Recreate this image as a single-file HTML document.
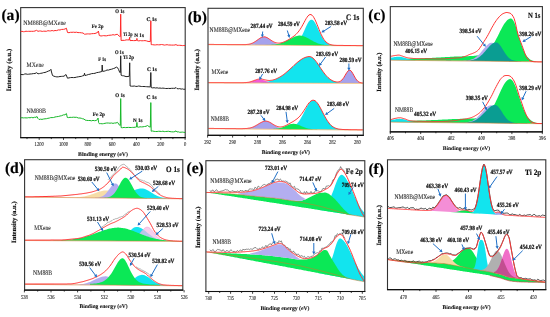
<!DOCTYPE html>
<html><head><meta charset="utf-8"><title>XPS spectra</title><style>
html,body{margin:0;padding:0;background:#fff;overflow:hidden;}
svg{display:block;}
text{font-family:"Liberation Serif","Times New Roman",serif;text-rendering:geometricPrecision;}
</style></head><body>
<svg width="550" height="317" viewBox="0 0 550 317">
<rect width="550" height="317" fill="#fff"/>
<rect x="20.7" y="7.6" width="164.5" height="130" fill="none" stroke="#333" stroke-width="1.1"/>
<path d="M20.2,137.6 H185.7" stroke="#111" stroke-width="1.2"/>
<path d="M185.1,137.6v2.3M160.8,137.6v2.3M136.5,137.6v2.3M112.1,137.6v2.3M87.8,137.6v2.3M63.5,137.6v2.3M39.2,137.6v2.3M172.9,137.6v1.5M148.6,137.6v1.5M124.3,137.6v1.5M100,137.6v1.5M75.7,137.6v1.5M51.3,137.6v1.5M27,137.6v1.5" stroke="#111" stroke-width="0.8"/>
<text x="183.9" y="146.3" font-size="6.0" textLength="2.3" lengthAdjust="spacingAndGlyphs" fill="#111" stroke="#111" stroke-width="0.08">0</text>
<text x="157.3" y="146.3" font-size="6.0" textLength="6.9" lengthAdjust="spacingAndGlyphs" fill="#111" stroke="#111" stroke-width="0.08">200</text>
<text x="133" y="146.3" font-size="6.0" textLength="6.9" lengthAdjust="spacingAndGlyphs" fill="#111" stroke="#111" stroke-width="0.08">400</text>
<text x="108.7" y="146.3" font-size="6.0" textLength="6.9" lengthAdjust="spacingAndGlyphs" fill="#111" stroke="#111" stroke-width="0.08">600</text>
<text x="84.4" y="146.3" font-size="6.0" textLength="6.9" lengthAdjust="spacingAndGlyphs" fill="#111" stroke="#111" stroke-width="0.08">800</text>
<text x="58.9" y="146.3" font-size="6.0" textLength="9.2" lengthAdjust="spacingAndGlyphs" fill="#111" stroke="#111" stroke-width="0.08">1000</text>
<text x="34.6" y="146.3" font-size="6.0" textLength="9.2" lengthAdjust="spacingAndGlyphs" fill="#111" stroke="#111" stroke-width="0.08">1200</text>
<text x="103" y="156.4" font-size="5.8" font-weight="bold" text-anchor="middle" fill="#111" stroke="#111" stroke-width="0.08">Binding energy (eV)</text>
<text x="-21.2" y="0" font-size="6.6" font-weight="bold" textLength="42.4" lengthAdjust="spacingAndGlyphs" fill="#111" stroke="#111" stroke-width="0.18" transform="translate(11.1,70) rotate(-90)">Intensity (a.u.)</text>
<text x="1.4" y="19.7" font-size="15.6" font-weight="bold" fill="#000" stroke="#000" stroke-width="0.18">(a)</text>
<path d="M20.7,31.5 22,31.3 23.4,31.7 24.7,31.6 26,31.2 27.3,31.4 28.7,31.3 30,31.3 31.7,31.3 33.3,31.3 35,31 36.5,30.3 38,31.3 39.4,31 40.8,31 42.2,31.4 43.6,31.2 45,31.2 46.4,31.3 47.9,30.7 49.3,30.9 50.7,30.9 52.1,30.5 53.6,30.9 55,30.5 56.7,30.6 58.3,29.9 60,30 61.7,29.4 63.3,29.4 65,29 66.4,28.2 67.5,32.5 69,32.7 70.5,32.3 72,32.3 73.5,32.2 75,32.4 76.5,32.2 78,32.6 79.7,32.6 81.3,32.8 83,33 84.5,34.2 85.9,34.1 87.2,33.9 88.6,33.9 90,34 91.7,33.7 93.3,33.6 95,33.5 97.5,32.5 98.4,31 99.3,35.5 101,36 102.3,35.8 103.7,35.6 105,35.8 106.7,35.8 108.3,35.4 110,35.2 111.5,35.1 113,34.7 114.5,35 116,34.6 117.2,34.2 119.5,36.4 120.3,36.6 120.7,14.2 121.1,40.5 123,40.3 124.5,40.4 126.1,39.9 127.6,39.9 129.2,39.9 129.6,37.3 130,40.6 132,40.5 133.5,40.6 135,40.6 136.5,40.4 136.9,38.4 137.3,40.6 138.8,40.9 140.4,40.6 141.9,40.8 143.5,40.7 145,40.6 146.5,40.9 148,41.4 150.3,41.6 150.8,20.8 151.2,44.6 152.7,44.7 154.1,44.9 155.6,44.9 157.1,44.7 158.5,44.8 160,44.8 161.4,44.5 162.9,44.7 164.3,45.1 165.7,44.9 167.1,44.7 168.6,45 170,45 171.7,45.1 173.3,45.1 175,45 176,44.5 177,45.3 178.3,45.3 179.7,45.3 181.1,45.4 182.4,45.6 183.8,45.5 185.1,45.5" fill="none" stroke="#ff2a2a" stroke-width="1.0" stroke-linejoin="round"/>
<path d="M20.7,74.4 22,74.6 23.4,74.6 24.7,74 26,73.9 27.3,74.3 28.7,74.2 30,74 31.7,73.9 33.3,73.6 35,73.5 36.6,72.7 38,73.8 39.4,73.6 40.8,73.3 42.2,73.1 43.6,72.6 45,72.5 46.7,71.8 48.3,71.1 50,70.5 50.9,69.3 51.5,72 52.5,75.5 53.9,76.2 55.3,76.6 56.9,76.9 58.4,76.8 60,76.5 61.3,76.4 62.7,76.3 64,76.2 66,74.5 67.5,78.2 69,77.9 70.5,77.6 72,77.5 73.5,77.6 75,77.5 76.7,77.1 78.3,76.8 80,76.5 81.3,76.4 82.7,75.8 84,75.5 84.5,73.2 85,75.5 86.7,75.1 88.3,74.5 90,74.2 91.7,73.6 93.3,73.5 95,73.3 96.7,72.6 98.3,72.4 100,72 101.9,71.5 102.2,65 102.6,71.3 104.1,71.2 105.6,70.7 107,70 108.5,70.1 110,69.5 111.7,69.2 113.3,68.6 115,68 116.3,67.1 117.5,67.6 118.5,69.5 119.8,72.5 120.3,72.5 120.7,55.8 121.1,75.2 122.4,75.7 123.7,75.8 126,76.6 128,76.5 129.3,76.2 129.7,62.8 130.1,86 131.5,86.2 132.9,86.2 134.3,86 135.8,86.4 137.2,86.4 138.6,86 140,86.2 141.3,86.5 142.7,86.5 144,86.5 145.3,86.6 146.7,86.7 148,86.8 150.3,86.9 150.8,72.5 151.2,87.6 152.7,87.9 154.1,87.7 155.6,88 157.1,87.8 158.5,88.2 160,88 161.4,88.3 162.9,88.1 164.3,88.3 165.7,88.5 167.1,88.5 168.6,88.4 170,88.5 171.7,88.3 173.3,88.3 175,88.3 176,87.5 177,88.6 178.3,88.8 179.7,88.6 181.1,89.1 182.4,88.9 183.8,89.3 185.1,89.2" fill="none" stroke="#222" stroke-width="1.0" stroke-linejoin="round"/>
<path d="M20.7,117.9 22,117.7 23.4,117.9 24.7,117.8 26,117.9 27.3,117.9 28.7,117.6 30,117.8 31.5,117.4 33,117.8 34.5,117.3 36,117.3 37,116.5 38,118.5 39,119.5 40.5,119.2 42,119.4 43.5,119 45,118.8 46.4,118.7 47.9,118.3 49.3,118.1 50.7,117.6 52.1,117.6 53.6,117.5 55,117 56.7,116.7 58.3,116.5 60,116 61.7,115.7 63.3,114.9 65,114.8 66.4,113.5 67.3,117.5 68.7,117.6 70,117.3 71.7,117.4 73.3,117.2 75,117.3 76.7,117.3 78.3,118 80,118 81.3,118.3 82.7,118.8 84,119 85,120 86.7,120.4 88.3,120.5 90,120.5 91.5,120.8 93,120.4 94.5,120.7 96,120.5 97.5,119.5 98,118 98.6,122.5 99.3,123.7 100.7,123.6 102.2,123.8 103.6,123.6 105,123.3 106.7,123 108.3,123 110,123.2 111.5,123 113,123.4 114.5,123 116,123 117.5,122.3 119.5,125.2 120.3,125.4 120.7,98.6 121.1,127.6 122.6,127.7 124.1,127.4 125.5,127.6 127,127.5 128.5,127.4 130,127.5 131.3,127.5 132.6,127.4 133.9,127.4 135.2,127.2 136.5,127 136.9,122.4 137.3,127 138.7,127.2 140,126.8 141.5,126.9 143,126.8 144.5,126.5 146,126.3 147.5,125.5 149,126.6 150.3,127.2 150.8,102.6 151.2,131.2 152.7,131 154.1,131.4 155.6,131.5 157.1,131.5 158.5,131.3 160,131.3 161.4,131.5 162.9,131.2 164.3,131.6 165.7,131.5 167.1,131.4 168.6,131.3 170,131.6 171.7,131.8 173.3,131.9 175,131.6 176,130.8 177,132 178.3,131.8 179.7,132.3 181.1,132.2 182.4,132.1 183.8,132.3 185.1,132.5" fill="none" stroke="#18b82a" stroke-width="1.0" stroke-linejoin="round"/>
<text x="23.3" y="24.5" font-size="6.8" textLength="42.7" lengthAdjust="spacingAndGlyphs" fill="#2a2a2a" stroke="#2a2a2a" stroke-width="0.1">NM88B@MXene</text>
<text x="26.6" y="67.3" font-size="6.8" textLength="17.2" lengthAdjust="spacingAndGlyphs" fill="#2a2a2a" stroke="#2a2a2a" stroke-width="0.1">MXene</text>
<text x="26.6" y="112.5" font-size="6.8" textLength="19.4" lengthAdjust="spacingAndGlyphs" fill="#2a2a2a" stroke="#2a2a2a" stroke-width="0.1">NM88B</text>
<text x="91.7" y="28.4" font-size="5.4" font-weight="bold" textLength="11.7" lengthAdjust="spacingAndGlyphs" fill="#111" stroke="#111" stroke-width="0.18">Fe 2p</text>
<text x="115.3" y="13.4" font-size="5.4" font-weight="bold" textLength="9.1" lengthAdjust="spacingAndGlyphs" fill="#111" stroke="#111" stroke-width="0.18">O 1s</text>
<text x="123.3" y="35.5" font-size="5.4" font-weight="bold" textLength="9.2" lengthAdjust="spacingAndGlyphs" fill="#111" stroke="#111" stroke-width="0.18">Ti 2p</text>
<text x="134.3" y="37.3" font-size="5.4" font-weight="bold" textLength="9.7" lengthAdjust="spacingAndGlyphs" fill="#111" stroke="#111" stroke-width="0.18">N 1s</text>
<text x="146.4" y="21.1" font-size="5.4" font-weight="bold" textLength="10.4" lengthAdjust="spacingAndGlyphs" fill="#111" stroke="#111" stroke-width="0.18">C 1s</text>
<text x="98.3" y="60.8" font-size="5.4" font-weight="bold" textLength="7.7" lengthAdjust="spacingAndGlyphs" fill="#111" stroke="#111" stroke-width="0.18">F 1s</text>
<text x="114.9" y="53.6" font-size="5.4" font-weight="bold" textLength="8.8" lengthAdjust="spacingAndGlyphs" fill="#111" stroke="#111" stroke-width="0.18">O 1s</text>
<text x="123" y="59.3" font-size="5.4" font-weight="bold" textLength="11" lengthAdjust="spacingAndGlyphs" fill="#111" stroke="#111" stroke-width="0.18">Ti 2p</text>
<text x="146.9" y="70.8" font-size="5.4" font-weight="bold" textLength="9.9" lengthAdjust="spacingAndGlyphs" fill="#111" stroke="#111" stroke-width="0.18">C 1s</text>
<text x="92.8" y="115.8" font-size="5.4" font-weight="bold" textLength="12.2" lengthAdjust="spacingAndGlyphs" fill="#111" stroke="#111" stroke-width="0.18">Fe 2p</text>
<text x="115.3" y="96.5" font-size="5.4" font-weight="bold" textLength="9.5" lengthAdjust="spacingAndGlyphs" fill="#111" stroke="#111" stroke-width="0.18">O 1s</text>
<text x="133" y="121.8" font-size="5.4" font-weight="bold" textLength="9.5" lengthAdjust="spacingAndGlyphs" fill="#111" stroke="#111" stroke-width="0.18">N 1s</text>
<text x="146.4" y="98.8" font-size="5.4" font-weight="bold" textLength="10.4" lengthAdjust="spacingAndGlyphs" fill="#111" stroke="#111" stroke-width="0.18">C 1s</text>
<path d="M208.5,44.4 209.5,44.4 210.5,44.4 211.5,44.4 212.5,44.4 213.5,44.4 214.5,44.5 215.5,44.5 216.5,44.5 217.5,44.5 218.4,44.5 219.4,44.5 220.4,44.5 221.4,44.5 222.4,44.5 223.4,44.5 224.4,44.5 225.4,44.5 226.4,44.5 227.4,44.6 228.4,44.6 229.4,44.6 230.4,44.6 231.4,44.6 232.4,44.6 233.4,44.6 234.4,44.6 235.4,44.6 236.3,44.6 237.3,44.6 238.3,44.6 239.3,44.6 240.3,44.6 241.3,44.6 242.3,44.6 243.3,44.6 244.3,44.6 245.3,44.6 246.3,44.5 247.3,44.4 248.3,44.3 249.3,44.1 250.3,43.9 251.3,43.6 252.3,43.2 253.3,42.7 254.2,42.2 255.2,41.5 256.2,40.9 257.2,40.1 258.2,39.4 259.2,38.7 260.2,38.1 261.2,37.5 262.2,37.1 263.2,36.9 264.2,36.8 265.2,37 266.2,37.3 267.2,37.8 268.2,38.4 269.2,39 270.2,39.8 271.2,40.5 272.2,41.3 273.1,41.9 274.1,42.5 275.1,43.1 276.1,43.5 277.1,43.9 278.1,44.2 279.1,44.4 280.1,44.6 281.1,44.7 282.1,44.8 283.1,44.9 284.1,44.9 285.1,45 286.1,45 287.1,45 288.1,45 289.1,45 290.1,45 291,45 292,45 293,45.1 294,45.1 295,45.1 296,45.1 297,45.1 298,45.1 299,45.1 300,45.1 300,45.1 208.5,44.4Z" fill="#a6a2ec"/>
<path d="M280,45 281,45 282,45 283,45 284,45 285,45 286,45 287,45 288,45 289,44.9 290,44.9 291,44.8 292,44.6 293,44.4 294,44.1 295,43.7 296,43.2 297,42.5 298,41.5 299,40.4 300,39 301,37.4 302,35.5 303,33.5 304,31.3 305,29 306,26.8 307,24.7 308,22.8 309,21.3 310,20.3 311,19.8 312,19.8 313,20.3 314,21.3 315,22.7 316,24.5 317,26.5 318,28.7 319,30.9 320,33.1 321,35.1 322,37 323,38.7 324,40.1 325,41.3 326,42.3 327,43.1 328,43.7 329,44.2 330,44.6 331,44.8 332,45 333,45.1 334,45.2 335,45.3 336,45.3 337,45.4 338,45.4 339,45.4 340,45.4 341,45.4 342,45.4 343,45.4 344,45.5 345,45.5 345,45.5 280,45Z" fill="#12e4ee"/>
<path d="M262,44.8 263,44.8 264,44.8 265,44.8 266,44.8 267,44.8 268,44.8 269,44.8 270,44.7 271,44.7 272,44.6 273,44.6 274,44.5 275,44.4 276,44.2 277,44.1 278,43.9 279,43.7 280,43.4 281,43.1 282,42.8 283,42.4 284,42 285,41.6 286,41.1 287,40.6 288,40.1 289,39.5 290,39 291,38.5 292,37.9 293,37.5 294,37 295,36.6 296,36.2 297,36 298,35.8 299,35.6 300,35.6 301,35.7 302,35.8 303,36.1 304,36.4 305,36.8 306,37.2 307,37.7 308,38.3 309,38.8 310,39.4 311,40 312,40.6 313,41.1 314,41.7 315,42.1 316,42.6 317,43 318,43.4 319,43.7 320,44 321,44.2 322,44.4 323,44.6 324,44.8 325,44.9 326,45 327,45.1 328,45.1 329,45.2 330,45.2 331,45.3 332,45.3 333,45.3 334,45.3 335,45.4 336,45.4 337,45.4 338,45.4 339,45.4 340,45.4 340,45.4 262,44.8Z" fill="#0be856"/>
<path d="M208.5,44.7L362.8,45.9" stroke="#e8a040" stroke-width="0.6"/>
<path d="M208.5,44.4 209.5,44.4 210.5,44.4 211.5,44.4 212.5,44.4 213.5,44.4 214.5,44.5 215.5,44.5 216.5,44.5 217.5,44.5 218.5,44.5 219.5,44.5 220.4,44.5 221.4,44.5 222.4,44.5 223.4,44.5 224.4,44.5 225.4,44.5 226.4,44.5 227.4,44.6 228.4,44.6 229.4,44.6 230.4,44.6 231.4,44.6 232.4,44.6 233.4,44.6 234.4,44.6 235.4,44.6 236.4,44.6 237.4,44.6 238.4,44.6 239.4,44.6 240.4,44.6 241.4,44.6 242.3,44.6 243.3,44.6 244.3,44.6 245.3,44.6 246.3,44.5 247.3,44.4 248.3,44.3 249.3,44.1 250.3,43.9 251.3,43.5 252.3,43.2 253.3,42.7 254.3,42.1 255.3,41.5 256.3,40.8 257.3,40.1 258.3,39.4 259.3,38.7 260.3,38 261.3,37.5 262.3,37.1 263.3,36.9 264.2,36.8 265.2,36.9 266.2,37.3 267.2,37.7 268.2,38.3 269.2,39 270.2,39.7 271.2,40.3 272.2,41 273.2,41.6 274.2,42.1 275.2,42.5 276.2,42.8 277.2,43 278.2,43.1 279.2,43.1 280.2,43 281.2,42.8 282.2,42.6 283.2,42.2 284.2,41.9 285.2,41.4 286.1,41 287.1,40.5 288.1,39.9 289.1,39.3 290.1,38.7 291.1,38.1 292.1,37.4 293.1,36.7 294.1,36 295.1,35.2 296.1,34.3 297.1,33.2 298.1,32.1 299.1,30.8 300.1,29.4 301.1,27.8 302.1,26.1 303.1,24.2 304.1,22.4 305.1,20.5 306.1,18.7 307.1,17.2 308,15.9 309,15 310,14.5 311,14.6 312,15.2 313,16.2 314,17.8 315,19.7 316,21.9 317,24.3 318,26.8 319,29.3 320,31.8 321,34.1 322,36.1 323,38 324,39.6 325,40.9 326,42 327,42.8 328,43.5 329,44.1 329.9,44.4 330.9,44.7 331.9,44.9 332.9,45.1 333.9,45.2 334.9,45.3 335.9,45.3 336.9,45.4 337.9,45.4 338.9,45.4 339.9,45.4 340.9,45.4 341.9,45.4 342.9,45.4 343.9,45.5 344.9,45.5 345.9,45.5 346.9,45.5 347.9,45.5 348.9,45.5 349.9,45.5 350.9,45.5 351.8,45.5 352.8,45.5 353.8,45.5 354.8,45.5 355.8,45.5 356.8,45.6 357.8,45.6 358.8,45.6 359.8,45.6 360.8,45.6 361.8,45.6 362.8,45.6" fill="none" stroke="#ff3434" stroke-width="1.0" stroke-linejoin="round"/>
<path d="M245,82.7 246,82.7 247,82.7 248,82.7 249,82.7 250,82.7 251,82.7 252,82.7 253,82.6 254,82.6 255,82.6 256,82.6 257,82.5 258,82.5 259,82.4 260,82.4 261,82.3 262,82.2 263,82.1 264,82 265,81.9 266,81.8 267,81.6 268,81.4 269,81.2 270,81 271,80.8 272,80.5 273,80.2 274,79.8 275,79.4 276,79 277,78.5 278,78 279,77.5 280,76.9 281,76.3 282,75.7 283,75 284,74.2 285,73.5 286,72.7 287,71.8 288,70.9 289,70.1 290,69.2 291,68.2 292,67.3 293,66.4 294,65.4 295,64.5 296,63.6 297,62.7 298,61.9 299,61.1 300,60.3 301,59.6 302,59 303,58.4 304,57.9 305,57.5 306,57.1 307,56.9 308,56.7 309,56.6 310,56.7 311,56.9 312,57.4 313,58.1 314,59 315,60.1 316,61.4 317,62.7 318,64.1 319,65.6 320,67.2 321,68.7 322,70.2 323,71.6 324,73 325,74.3 326,75.4 327,76.5 328,77.5 329,78.4 330,79.2 331,79.8 332,80.4 333,80.9 334,81.3 335,81.7 336,82 337,82.2 338,82.4 339,82.5 340,82.6 341,82.7 342,82.8 343,82.9 344,82.9 345,83 346,83 347,83 348,83 349,83 350,83 350,83.1 245,82.7Z" fill="#12e4ee"/>
<path d="M240,82.7 241,82.7 242,82.7 243,82.7 244,82.7 245,82.6 246,82.6 247,82.5 248,82.3 249,82.2 250,82 251,81.7 252,81.4 253,81.1 254,80.7 255,80.3 256,80 257,79.7 258,79.5 259,79.4 260,79.4 261,79.5 262,79.7 263,80 264,80.3 265,80.7 266,81.1 267,81.4 268,81.8 269,82 270,82.3 271,82.4 272,82.5 273,82.6 274,82.7 275,82.8 276,82.8 277,82.8 278,82.8 279,82.8 280,82.8 280,82.8 240,82.7Z" fill="#f25ad8"/>
<path d="M330,83 331,83 332,83 333,83 334,83 335,83 336,82.9 337,82.8 338,82.6 338.9,82.3 339.9,81.9 340.9,81.2 341.9,80.2 342.9,79 343.9,77.4 344.9,75.7 345.9,74 346.9,72.4 347.9,71.1 348.9,70.3 349.9,70.2 350.9,70.7 351.9,71.9 352.9,73.5 353.9,75.3 354.8,77.2 355.8,78.8 356.8,80.2 357.8,81.2 358.8,81.9 359.8,82.4 360.8,82.7 361.8,82.9 362.8,83 362.8,83.1 330,83Z" fill="#a6a2ec"/>
<path d="M208.5,82.9L362.8,83.4" stroke="#e8a040" stroke-width="0.6"/>
<path d="M208.5,82.6 209.5,82.6 210.5,82.6 211.5,82.6 212.5,82.6 213.5,82.6 214.5,82.6 215.5,82.6 216.5,82.6 217.5,82.6 218.5,82.6 219.5,82.6 220.4,82.6 221.4,82.6 222.4,82.6 223.4,82.6 224.4,82.7 225.4,82.7 226.4,82.7 227.4,82.7 228.4,82.7 229.4,82.7 230.4,82.7 231.4,82.7 232.4,82.7 233.4,82.7 234.4,82.7 235.4,82.7 236.4,82.7 237.4,82.7 238.4,82.7 239.4,82.7 240.4,82.7 241.4,82.7 242.3,82.7 243.3,82.7 244.3,82.6 245.3,82.6 246.3,82.5 247.3,82.4 248.3,82.3 249.3,82.1 250.3,81.8 251.3,81.5 252.3,81.2 253.3,80.8 254.3,80.4 255.3,80.1 256.3,79.7 257.3,79.4 258.3,79.2 259.3,79 260.3,79 261.3,79.1 262.3,79.2 263.3,79.4 264.2,79.7 265.2,79.9 266.2,80.1 267.2,80.3 268.2,80.4 269.2,80.5 270.2,80.4 271.2,80.3 272.2,80.2 273.2,79.9 274.2,79.6 275.2,79.3 276.2,78.9 277.2,78.4 278.2,77.9 279.2,77.4 280.2,76.8 281.2,76.2 282.2,75.5 283.2,74.9 284.2,74.1 285.2,73.3 286.1,72.5 287.1,71.7 288.1,70.8 289.1,69.9 290.1,69 291.1,68.1 292.1,67.2 293.1,66.3 294.1,65.3 295.1,64.4 296.1,63.5 297.1,62.6 298.1,61.8 299.1,61 300.1,60.3 301.1,59.6 302.1,58.9 303.1,58.4 304.1,57.9 305.1,57.5 306.1,57.1 307.1,56.9 308,56.7 309,56.6 310,56.7 311,56.9 312,57.4 313,58.2 314,59.1 315,60.2 316,61.4 317,62.7 318,64.2 319,65.6 320,67.2 321,68.7 322,70.1 323,71.6 324,72.9 325,74.2 326,75.4 327,76.5 328,77.5 329,78.3 329.9,79.1 330.9,79.8 331.9,80.4 332.9,80.9 333.9,81.3 334.9,81.6 335.9,81.8 336.9,82 337.9,82 338.9,81.8 339.9,81.5 340.9,80.9 341.9,80 342.9,78.8 343.9,77.4 344.9,75.7 345.9,74 346.9,72.4 347.9,71.1 348.9,70.3 349.9,70.2 350.9,70.7 351.8,71.9 352.8,73.5 353.8,75.3 354.8,77.1 355.8,78.8 356.8,80.1 357.8,81.2 358.8,81.9 359.8,82.4 360.8,82.7 361.8,82.9 362.8,83" fill="none" stroke="#ff3434" stroke-width="1.0" stroke-linejoin="round"/>
<path d="M209,128.4 210,128.4 211,128.4 212,128.4 213,128.4 214,128.5 215,128.5 216,128.5 217,128.5 218,128.5 219,128.5 220,128.5 221,128.5 222,128.5 223,128.5 224,128.5 225,128.6 226,128.6 227,128.6 228,128.6 229,128.6 230,128.6 231,128.6 232,128.6 233,128.6 234,128.6 235,128.6 236,128.6 237,128.7 238,128.7 239,128.7 240,128.7 241,128.7 242,128.7 243,128.6 244,128.6 245,128.6 246,128.5 247,128.4 248,128.3 249,128.1 250,127.9 251,127.7 252,127.4 253,127 254,126.6 255,126.1 256,125.5 257,124.9 258,124.3 259,123.7 260,123.1 261,122.5 262,122 263,121.6 264,121.3 265,121.2 266,121.1 267,121.2 268,121.5 269,121.9 270,122.4 271,123 272,123.7 273,124.4 274,125.1 275,125.7 276,126.3 277,126.9 278,127.3 279,127.7 280,128.1 281,128.3 282,128.5 283,128.7 284,128.8 285,128.9 286,129 287,129 288,129.1 289,129.1 290,129.1 291,129.1 292,129.2 293,129.2 294,129.2 295,129.2 296,129.2 297,129.2 298,129.2 299,129.2 300,129.2 300,129.2 209,128.4Z" fill="#a6a2ec"/>
<path d="M280,129 281,129 282,129 283,129 284,128.9 285,128.9 286,128.8 287,128.7 288,128.6 289,128.4 290,128.2 291,127.8 292,127.4 293,126.9 294,126.3 295,125.6 296,124.7 297,123.7 298,122.5 299,121.2 300,119.7 301,118 302,116.2 303,114.4 304,112.5 305,110.5 306,108.6 307,106.8 308,105.1 309,103.6 310,102.3 311,101.3 312,100.7 313,100.4 314,100.4 315,100.8 316,101.6 317,102.6 318,103.9 319,105.5 320,107.2 321,109.1 322,111.1 323,113 324,115 325,116.8 326,118.6 327,120.2 328,121.7 329,123 330,124.2 331,125.2 332,126.1 333,126.8 334,127.4 335,127.9 336,128.3 337,128.6 338,128.9 339,129.1 340,129.2 341,129.3 342,129.4 343,129.5 344,129.5 345,129.6 346,129.6 347,129.6 348,129.6 349,129.7 350,129.7 350,129.7 280,129.1Z" fill="#12e4ee"/>
<path d="M270,128.9 271,128.9 272,128.9 273,128.9 274,128.8 275,128.7 276,128.7 277,128.5 278,128.4 279,128.2 280,128 281,127.7 282,127.4 283,127.1 284,126.7 285,126.3 286,125.8 287,125.4 288,125 289,124.6 290,124.3 291,124 292,123.9 293,123.8 294,123.8 295,123.9 296,124.1 297,124.4 298,124.7 299,125.1 300,125.5 301,126 302,126.4 303,126.8 304,127.2 305,127.6 306,127.9 307,128.2 308,128.5 309,128.7 310,128.8 311,129 312,129.1 313,129.2 314,129.2 315,129.3 316,129.3 317,129.3 318,129.4 319,129.4 320,129.4 320,129.4 270,129Z" fill="#0be856"/>
<path d="M208.5,128.7L362.8,130.1" stroke="#e8a040" stroke-width="0.6"/>
<path d="M208.5,128.4 209.5,128.4 210.5,128.4 211.5,128.4 212.5,128.4 213.5,128.4 214.5,128.5 215.5,128.5 216.5,128.5 217.5,128.5 218.5,128.5 219.5,128.5 220.4,128.5 221.4,128.5 222.4,128.5 223.4,128.5 224.4,128.5 225.4,128.6 226.4,128.6 227.4,128.6 228.4,128.6 229.4,128.6 230.4,128.6 231.4,128.6 232.4,128.6 233.4,128.6 234.4,128.6 235.4,128.6 236.4,128.7 237.4,128.7 238.4,128.7 239.4,128.7 240.4,128.7 241.4,128.7 242.3,128.7 243.3,128.6 244.3,128.6 245.3,128.5 246.3,128.5 247.3,128.4 248.3,128.2 249.3,128.1 250.3,127.9 251.3,127.6 252.3,127.3 253.3,126.9 254.3,126.4 255.3,125.9 256.3,125.3 257.3,124.8 258.3,124.1 259.3,123.5 260.3,122.9 261.3,122.4 262.3,121.9 263.3,121.5 264.2,121.3 265.2,121.1 266.2,121.1 267.2,121.3 268.2,121.6 269.2,122 270.2,122.5 271.2,123.1 272.2,123.8 273.2,124.4 274.2,125 275.2,125.6 276.2,126 277.2,126.4 278.2,126.7 279.2,126.9 280.2,127 281.2,126.9 282.2,126.8 283.2,126.5 284.2,126.2 285.2,125.8 286.1,125.4 287.1,124.9 288.1,124.3 289.1,123.8 290.1,123.2 291.1,122.6 292.1,122.1 293.1,121.5 294.1,120.9 295.1,120.2 296.1,119.5 297.1,118.8 298.1,117.9 299.1,116.9 300.1,115.9 301.1,114.6 302.1,113.3 303.1,111.9 304.1,110.3 305.1,108.8 306.1,107.2 307.1,105.6 308,104.2 309,102.9 310,101.8 311,101 312,100.4 313,100.2 314,100.3 315,100.7 316,101.5 317,102.6 318,103.9 319,105.5 320,107.2 321,109.1 322,111 323,113 324,114.9 325,116.8 326,118.5 327,120.2 328,121.6 329,123 329.9,124.2 330.9,125.2 331.9,126 332.9,126.8 333.9,127.4 334.9,127.9 335.9,128.3 336.9,128.6 337.9,128.9 338.9,129.1 339.9,129.2 340.9,129.3 341.9,129.4 342.9,129.5 343.9,129.5 344.9,129.6 345.9,129.6 346.9,129.6 347.9,129.6 348.9,129.7 349.9,129.7 350.9,129.7 351.8,129.7 352.8,129.7 353.8,129.7 354.8,129.7 355.8,129.7 356.8,129.7 357.8,129.8 358.8,129.8 359.8,129.8 360.8,129.8 361.8,129.8 362.8,129.8" fill="none" stroke="#ff3434" stroke-width="1.0" stroke-linejoin="round"/>
<rect x="208" y="8.3" width="155.3" height="127" fill="none" stroke="#333" stroke-width="1.1"/>
<path d="M207.5,135.3 H363.8" stroke="#111" stroke-width="1.2"/>
<path d="M207.6,135.3v2.3M232.6,135.3v2.3M257.5,135.3v2.3M282.5,135.3v2.3M307.4,135.3v2.3M332.4,135.3v2.3M357.4,135.3v2.3M220.1,135.3v1.5M245,135.3v1.5M270,135.3v1.5M295,135.3v1.5M319.9,135.3v1.5M344.9,135.3v1.5" stroke="#111" stroke-width="0.8"/>
<text x="204.2" y="143.8" font-size="6.0" textLength="6.9" lengthAdjust="spacingAndGlyphs" fill="#111" stroke="#111" stroke-width="0.08">292</text>
<text x="229.1" y="143.8" font-size="6.0" textLength="6.9" lengthAdjust="spacingAndGlyphs" fill="#111" stroke="#111" stroke-width="0.08">290</text>
<text x="254.1" y="143.8" font-size="6.0" textLength="6.9" lengthAdjust="spacingAndGlyphs" fill="#111" stroke="#111" stroke-width="0.08">288</text>
<text x="279" y="143.8" font-size="6.0" textLength="6.9" lengthAdjust="spacingAndGlyphs" fill="#111" stroke="#111" stroke-width="0.08">286</text>
<text x="304" y="143.8" font-size="6.0" textLength="6.9" lengthAdjust="spacingAndGlyphs" fill="#111" stroke="#111" stroke-width="0.08">284</text>
<text x="328.9" y="143.8" font-size="6.0" textLength="6.9" lengthAdjust="spacingAndGlyphs" fill="#111" stroke="#111" stroke-width="0.08">282</text>
<text x="353.9" y="143.8" font-size="6.0" textLength="6.9" lengthAdjust="spacingAndGlyphs" fill="#111" stroke="#111" stroke-width="0.08">280</text>
<text x="285.8" y="153.6" font-size="5.6" font-weight="bold" text-anchor="middle" fill="#111" stroke="#111" stroke-width="0.08">Binding energy (eV)</text>
<text x="-20.8" y="0" font-size="6.5" font-weight="bold" textLength="41.6" lengthAdjust="spacingAndGlyphs" fill="#111" stroke="#111" stroke-width="0.18" transform="translate(199.4,69.7) rotate(-90)">Intensity (a.u.)</text>
<text x="187.8" y="22" font-size="15.6" font-weight="bold" fill="#000" stroke="#000" stroke-width="0.18">(b)</text>
<text x="346.1" y="20.1" font-size="8.4" font-weight="bold" textLength="13.3" lengthAdjust="spacingAndGlyphs" fill="#111" stroke="#111" stroke-width="0.18">C 1s</text>
<text x="209.6" y="32.3" font-size="7.0" textLength="40.4" lengthAdjust="spacingAndGlyphs" fill="#2a2a2a" stroke="#2a2a2a" stroke-width="0.1">NM88B@MXene</text>
<text x="211.5" y="74.2" font-size="7.0" textLength="16.8" lengthAdjust="spacingAndGlyphs" fill="#2a2a2a" stroke="#2a2a2a" stroke-width="0.1">MXene</text>
<text x="210.8" y="120.7" font-size="7.0" textLength="18.2" lengthAdjust="spacingAndGlyphs" fill="#2a2a2a" stroke="#2a2a2a" stroke-width="0.1">NM88B</text>
<text x="250.6" y="28.3" font-size="6.4" font-weight="bold" textLength="22" lengthAdjust="spacingAndGlyphs" fill="#111" stroke="#111" stroke-width="0.22">287.44 eV</text>
<path d="M262.7,31.5 L262.4,34.9" stroke="#1f6fc6" stroke-width="1.0"/>
<path d="M262.2,37.5 L260.9,34.4 L264,34.6Z" fill="#1f6fc6"/>
<text x="277.9" y="26.4" font-size="6.4" font-weight="bold" textLength="22" lengthAdjust="spacingAndGlyphs" fill="#111" stroke="#111" stroke-width="0.22">284.59 eV</text>
<path d="M287.3,30.5 L288.8,35.4" stroke="#1f6fc6" stroke-width="1.0"/>
<path d="M289.6,37.9 L287.2,35.5 L290.2,34.6Z" fill="#1f6fc6"/>
<text x="325" y="25.3" font-size="6.4" font-weight="bold" textLength="22" lengthAdjust="spacingAndGlyphs" fill="#111" stroke="#111" stroke-width="0.22">283.58 eV</text>
<path d="M330.9,26.5 L323.6,31.2" stroke="#1f6fc6" stroke-width="1.0"/>
<path d="M321.4,32.6 L323.1,29.6 L324.8,32.3Z" fill="#1f6fc6"/>
<text x="255.2" y="72.5" font-size="6.4" font-weight="bold" textLength="22" lengthAdjust="spacingAndGlyphs" fill="#111" stroke="#111" stroke-width="0.22">287.76 eV</text>
<path d="M262.6,74 L260.5,77.7" stroke="#1f6fc6" stroke-width="1.0"/>
<path d="M259.2,80 L259.3,76.6 L262.1,78.2Z" fill="#1f6fc6"/>
<text x="316" y="55.8" font-size="6.4" font-weight="bold" textLength="22" lengthAdjust="spacingAndGlyphs" fill="#111" stroke="#111" stroke-width="0.22">283.69 eV</text>
<path d="M325.6,57 L320.5,63.9" stroke="#1f6fc6" stroke-width="1.0"/>
<path d="M318.9,66 L319.4,62.6 L322,64.5Z" fill="#1f6fc6"/>
<text x="339.5" y="61.5" font-size="6.4" font-weight="bold" textLength="22" lengthAdjust="spacingAndGlyphs" fill="#111" stroke="#111" stroke-width="0.22">280.59 eV</text>
<path d="M348.9,63.5 L348.9,68.2" stroke="#1f6fc6" stroke-width="1.0"/>
<path d="M348.9,70.8 L347.3,67.8 L350.5,67.8Z" fill="#1f6fc6"/>
<text x="247.5" y="114.4" font-size="6.4" font-weight="bold" textLength="22" lengthAdjust="spacingAndGlyphs" fill="#111" stroke="#111" stroke-width="0.22">287.28 eV</text>
<path d="M261,115.4 L263.8,119.1" stroke="#1f6fc6" stroke-width="1.0"/>
<path d="M265.4,121.2 L262.3,119.8 L264.9,117.8Z" fill="#1f6fc6"/>
<text x="276.2" y="109.8" font-size="6.4" font-weight="bold" textLength="22" lengthAdjust="spacingAndGlyphs" fill="#111" stroke="#111" stroke-width="0.22">284.98 eV</text>
<path d="M286,111.8 L287.2,120.7" stroke="#1f6fc6" stroke-width="1.0"/>
<path d="M287.5,123.3 L285.5,120.5 L288.7,120.1Z" fill="#1f6fc6"/>
<text x="327" y="106.4" font-size="6.4" font-weight="bold" textLength="22" lengthAdjust="spacingAndGlyphs" fill="#111" stroke="#111" stroke-width="0.22">283.48 eV</text>
<path d="M334.2,108.4 L327.1,113.5" stroke="#1f6fc6" stroke-width="1.0"/>
<path d="M325,115 L326.5,112 L328.4,114.6Z" fill="#1f6fc6"/>
<path d="M390.8,59 391.8,59 392.8,59 393.8,59 394.8,59 395.8,58.9 396.8,58.9 397.8,58.9 398.8,58.9 399.7,58.9 400.7,58.9 401.7,58.8 402.7,58.8 403.7,58.8 404.7,58.8 405.7,58.8 406.7,58.7 407.7,58.7 408.7,58.7 409.7,58.7 410.7,58.6 411.7,58.6 412.7,58.6 413.7,58.6 414.7,58.5 415.7,58.5 416.6,58.5 417.6,58.4 418.6,58.4 419.6,58.4 420.6,58.3 421.6,58.3 422.6,58.3 423.6,58.2 424.6,58.2 425.6,58.1 426.6,58.1 427.6,58.1 428.6,58 429.6,58 430.6,57.9 431.6,57.9 432.6,57.8 433.5,57.8 434.5,57.7 435.5,57.7 436.5,57.6 437.5,57.5 438.5,57.5 439.5,57.4 440.5,57.4 441.5,57.3 442.5,57.3 443.5,57.2 444.5,57.2 445.5,57.1 446.5,57 447.5,57 448.5,56.9 449.5,56.9 450.4,56.8 451.4,56.8 452.4,56.7 453.4,56.7 454.4,56.6 455.4,56.6 456.4,56.5 457.4,56.5 458.4,56.5 459.4,56.4 460.4,56.4 461.4,56.4 462.4,56.3 463.4,56.3 464.4,56.3 465.4,56.2 466.4,56.2 467.3,56.2 468.3,56.2 469.3,56.1 470.3,56.1 471.3,56 472.3,56 473.3,55.9 474.3,55.8 475.3,55.7 476.3,55.6 477.3,55.4 478.3,55.3 479.3,55.1 480.3,54.9 481.3,54.7 482.3,54.3 483.2,54 484.2,53.5 485.2,53 486.2,52.3 487.2,51.5 488.2,50.7 489.2,49.7 490.2,48.5 491.2,47.2 492.2,45.8 493.2,44.3 494.2,42.7 495.2,40.9 496.2,39.1 497.2,37.2 498.2,35.3 499.2,33.3 500.1,31.3 501.1,29.4 502.1,27.5 503.1,25.8 504.1,24.1 505.1,22.7 506.1,21.4 507.1,20.3 508.1,19.5 509.1,18.9 510.1,18.6 511.1,18.6 512.1,19.1 513.1,20.3 514.1,22.1 515.1,24.5 516.1,27.2 517,30.3 518,33.5 519,36.9 520,40.1 521,43.2 522,46.2 523,48.8 524,51.2 525,53.2 526,55 527,56.4 528,57.6 529,58.6 530,59.4 531,59.9 532,60.4 533,60.7 533.9,61 534.9,61.1 535.9,61.3 536.9,61.4 537.9,61.4 538.9,61.5 539.9,61.5 540.9,61.6 541.9,61.6 541.9,61.6 390.8,60Z" fill="#0be856"/>
<path d="M455,60.7 456,60.7 457,60.7 458,60.7 459,60.7 460,60.7 461,60.7 462,60.7 463,60.7 464,60.6 465,60.6 466,60.5 467,60.4 468,60.3 469,60.1 470,59.9 471,59.6 472,59.3 473,58.9 474,58.4 475,57.8 476,57.1 477,56.3 478,55.5 479,54.5 480,53.4 481,52.3 482,51.1 483,49.8 484,48.6 485,47.4 486,46.3 487,45.3 488,44.4 489,43.6 490,43.1 491,42.8 492,42.7 493,42.9 494,43.7 495,44.9 496,46.4 497,48.1 498,50 499,51.8 500,53.6 501,55.2 502,56.6 503,57.8 504,58.7 505,59.4 506,60 507,60.4 508,60.7 509,60.9 510,61.1 511,61.2 512,61.2 513,61.3 514,61.3 515,61.3 516,61.3 517,61.3 518,61.3 519,61.4 520,61.4 520,61.4 455,60.7Z" fill="#b3aef0"/>
<path d="M445,60.6 446,60.6 447,60.6 448,60.6 449,60.6 450,60.6 451,60.6 452,60.7 453,60.7 454,60.7 455,60.7 456,60.7 457,60.7 458,60.7 459,60.7 460,60.7 461,60.7 462,60.7 463,60.7 464,60.7 465,60.7 466,60.7 467,60.6 468,60.6 469,60.5 470,60.4 471,60.3 472,60.1 473,59.9 474,59.6 475,59.3 476,58.9 477,58.4 478,57.8 479,57.2 480,56.4 481,55.6 482,54.7 483,53.7 484,52.6 485,51.4 486,50.3 487,49.1 488,47.9 489,46.8 490,45.7 491,44.8 492,43.9 493,43.3 494,42.8 495,42.5 496,42.4 497,42.6 498,43.1 499,44.1 500,45.2 501,46.6 502,48.2 503,49.8 504,51.4 505,53 506,54.5 507,55.8 508,56.9 509,57.9 510,58.7 511,59.4 512,59.9 513,60.3 514,60.6 515,60.8 516,61 517,61.1 518,61.2 519,61.3 520,61.3 521,61.3 522,61.4 523,61.4 524,61.4 525,61.4 526,61.4 527,61.4 528,61.5 529,61.5 530,61.5 530,61.5 445,60.6Z" fill="#0a9d92"/>
<path d="M390.8,57.8 391.8,57.6 392.7,57.4 393.7,57.2 394.7,57 395.7,56.9 396.6,56.8 397.6,56.7 398.6,56.7 399.6,56.7 400.5,56.8 401.5,57 402.5,57.2 403.5,57.5 404.4,57.8 405.4,58.1 406.4,58.4 407.3,58.7 408.3,59 409.3,59.3 410.3,59.5 411.2,59.7 412.2,59.8 413.2,59.9 414.2,60 415.1,60.1 416.1,60.2 417.1,60.2 418.1,60.3 419,60.3 420,60.3 420,60.3 390.8,60Z" fill="#12e4ee"/>
<path d="M390.8,60.2L541.9,61.8" stroke="#d0782c" stroke-width="0.6"/>
<path d="M390.8,56.3 391.8,56.1 392.8,55.9 393.8,55.7 394.8,55.6 395.8,55.4 396.8,55.3 397.8,55.1 398.8,55.1 399.7,55.2 400.7,55.5 401.7,55.9 402.7,56.2 403.7,56.6 404.7,56.9 405.7,57.3 406.7,57.6 407.7,57.8 408.7,58 409.7,58.1 410.7,58.2 411.7,58.3 412.7,58.4 413.7,58.5 414.7,58.5 415.7,58.6 416.6,58.6 417.6,58.6 418.6,58.6 419.6,58.6 420.6,58.7 421.6,58.7 422.6,58.7 423.6,58.7 424.6,58.7 425.6,58.7 426.6,58.7 427.6,58.8 428.6,58.8 429.6,58.8 430.6,58.8 431.6,58.8 432.6,58.8 433.5,58.8 434.5,58.8 435.5,58.9 436.5,58.9 437.5,58.9 438.5,58.9 439.5,58.9 440.5,58.9 441.5,58.9 442.5,58.9 443.5,58.9 444.5,58.8 445.5,58.8 446.5,58.7 447.5,58.6 448.5,58.5 449.5,58.5 450.4,58.4 451.4,58.3 452.4,58.2 453.4,58.2 454.4,58.1 455.4,58 456.4,58 457.4,57.9 458.4,57.8 459.4,57.8 460.4,57.6 461.4,57.5 462.4,57.2 463.4,56.9 464.4,56.6 465.4,56.3 466.4,55.9 467.3,55.5 468.3,55 469.3,54.6 470.3,54.2 471.3,53.9 472.3,53.5 473.3,53.1 474.3,52.7 475.3,52.2 476.3,51.6 477.3,50.9 478.3,50 479.3,48.8 480.3,47.3 481.3,45.8 482.3,44.2 483.2,42.8 484.2,41.2 485.2,39.7 486.2,38.1 487.2,36.4 488.2,34.7 489.2,32.8 490.2,30.9 491.2,28.9 492.2,27.1 493.2,25.4 494.2,23.6 495.2,22 496.2,20.6 497.2,19.2 498.2,18 499.2,16.8 500.1,15.9 501.1,15 502.1,14.2 503.1,13.6 504.1,13.2 505.1,12.8 506.1,12.5 507.1,12.5 508.1,12.7 509.1,12.9 510.1,13.2 511.1,13.8 512.1,14.9 513.1,16.4 514.1,18.4 515.1,21.8 516.1,26.1 517,30.6 518,34.4 519,37.5 520,40.3 521,42.8 522,45.4 523,48.2 524,51 525,53.8 526,56 527,57.9 528,59.1 529,60.1 530,60.7 531,61.1 532,61.4 533,61.6 533.9,61.7 534.9,61.8 535.9,61.8 536.9,61.8 537.9,61.9 538.9,61.9 539.9,61.9 540.9,61.9 541.9,61.9" fill="none" stroke="#ff3434" stroke-width="1.0" stroke-linejoin="round"/>
<path d="M390.8,121.1 391.8,121.1 392.8,121.1 393.8,121.1 394.8,121 395.8,121 396.8,121 397.8,121 398.8,121 399.7,121 400.7,121 401.7,121 402.7,120.9 403.7,120.9 404.7,120.9 405.7,120.9 406.7,120.9 407.7,120.9 408.7,120.8 409.7,120.8 410.7,120.8 411.7,120.8 412.7,120.8 413.7,120.7 414.7,120.7 415.7,120.7 416.6,120.7 417.6,120.6 418.6,120.6 419.6,120.6 420.6,120.5 421.6,120.5 422.6,120.5 423.6,120.4 424.6,120.4 425.6,120.4 426.6,120.3 427.6,120.3 428.6,120.3 429.6,120.2 430.6,120.2 431.6,120.1 432.6,120.1 433.5,120 434.5,120 435.5,119.9 436.5,119.9 437.5,119.9 438.5,119.8 439.5,119.8 440.5,119.7 441.5,119.7 442.5,119.6 443.5,119.6 444.5,119.5 445.5,119.5 446.5,119.4 447.5,119.4 448.5,119.3 449.5,119.3 450.4,119.2 451.4,119.2 452.4,119.1 453.4,119.1 454.4,119 455.4,119 456.4,119 457.4,118.9 458.4,118.9 459.4,118.9 460.4,118.8 461.4,118.8 462.4,118.8 463.4,118.8 464.4,118.7 465.4,118.7 466.4,118.7 467.3,118.7 468.3,118.7 469.3,118.6 470.3,118.6 471.3,118.6 472.3,118.5 473.3,118.5 474.3,118.4 475.3,118.3 476.3,118.2 477.3,118.1 478.3,118 479.3,117.9 480.3,117.7 481.3,117.5 482.3,117.2 483.2,116.8 484.2,116.4 485.2,115.8 486.2,115.2 487.2,114.4 488.2,113.5 489.2,112.4 490.2,111.2 491.2,109.8 492.2,108.3 493.2,106.6 494.2,104.8 495.2,102.9 496.2,100.8 497.2,98.7 498.2,96.5 499.2,94.3 500.1,92.2 501.1,90 502.1,88 503.1,86.1 504.1,84.3 505.1,82.8 506.1,81.5 507.1,80.4 508.1,79.7 509.1,79.2 510.1,79.1 511.1,79.4 512.1,80.3 513.1,81.6 514.1,83.4 515.1,85.6 516.1,88.1 517,90.8 518,93.7 519,96.6 520,99.6 521,102.4 522,105.2 523,107.8 524,110.2 525,112.3 526,114.2 527,115.9 528,117.3 529,118.6 530,119.6 531,120.4 532,121.1 533,121.7 533.9,122.1 534.9,122.5 535.9,122.7 536.9,122.9 537.9,123.1 538.9,123.2 539.9,123.3 540.9,123.4 541.9,123.4 541.9,123.5 390.8,121.9Z" fill="#0be856"/>
<path d="M455,122.6 456,122.6 457,122.6 458,122.6 459,122.6 460,122.6 461,122.6 462,122.6 463,122.5 464,122.5 465,122.4 466,122.3 467,122.2 468,122.1 469,121.8 470,121.6 471,121.3 472,120.9 473,120.4 474,119.8 475,119.2 476,118.4 477,117.6 478,116.6 479,115.6 480,114.5 481,113.4 482,112.2 483,111 484,109.9 485,108.8 486,107.8 487,107 488,106.3 489,105.7 490,105.4 491,105.3 492,105.6 493,106.3 494,107.4 495,108.9 496,110.5 497,112.3 498,114.1 499,115.8 500,117.3 501,118.7 502,119.8 503,120.7 504,121.4 505,121.9 506,122.3 507,122.6 508,122.8 509,123 510,123 511,123.1 512,123.1 513,123.2 514,123.2 515,123.2 516,123.2 517,123.2 518,123.2 519,123.3 520,123.3 520,123.3 455,122.6Z" fill="#b3aef0"/>
<path d="M445,122.5 446,122.5 447,122.5 448,122.5 449,122.5 450,122.5 451,122.5 452,122.6 453,122.6 454,122.6 455,122.6 456,122.6 457,122.6 458,122.6 459,122.6 460,122.6 461,122.6 462,122.6 463,122.6 464,122.5 465,122.5 466,122.4 467,122.4 468,122.3 469,122.1 470,122 471,121.7 472,121.5 473,121.2 474,120.8 475,120.4 476,119.8 477,119.3 478,118.6 479,117.8 480,117 481,116.1 482,115.1 483,114.1 484,113.1 485,112 486,110.9 487,109.8 488,108.8 489,107.9 490,107 491,106.3 492,105.7 493,105.3 494,105 495,105 496,105.1 497,105.7 498,106.6 499,107.7 500,109.1 501,110.5 502,112.1 503,113.7 504,115.2 505,116.6 506,117.9 507,119 508,119.9 509,120.7 510,121.3 511,121.8 512,122.2 513,122.5 514,122.7 515,122.9 516,123 517,123.1 518,123.2 519,123.2 520,123.2 521,123.3 522,123.3 523,123.3 524,123.3 525,123.3 526,123.3 527,123.3 528,123.4 529,123.4 530,123.4 530,123.4 445,122.5Z" fill="#0a9d92"/>
<path d="M390.8,120.2 391.8,119.9 392.7,119.7 393.7,119.5 394.7,119.4 395.7,119.2 396.6,119 397.6,118.9 398.6,118.9 399.6,118.8 400.5,118.9 401.5,118.9 402.5,119.1 403.5,119.3 404.4,119.5 405.4,119.8 406.4,120.1 407.3,120.4 408.3,120.7 409.3,121 410.3,121.2 411.2,121.4 412.2,121.6 413.2,121.7 414.2,121.9 415.1,122 416.1,122 417.1,122.1 418.1,122.1 419,122.2 420,122.2 420,122.2 390.8,121.9Z" fill="#12e4ee"/>
<path d="M390.8,122.1L541.9,123.7" stroke="#d0782c" stroke-width="0.6"/>
<path d="M390.8,119.7 391.8,119.3 392.8,119 393.8,118.7 394.8,118.4 395.8,118.3 396.8,118.1 397.8,117.9 398.8,117.8 399.7,117.8 400.7,117.8 401.7,118 402.7,118.3 403.7,118.6 404.7,118.9 405.7,119.2 406.7,119.6 407.7,120.1 408.7,120.4 409.7,120.7 410.7,120.8 411.7,120.9 412.7,121 413.7,121.1 414.7,121.1 415.7,121.2 416.6,121.2 417.6,121.3 418.6,121.3 419.6,121.3 420.6,121.3 421.6,121.3 422.6,121.4 423.6,121.4 424.6,121.4 425.6,121.4 426.6,121.4 427.6,121.4 428.6,121.4 429.6,121.4 430.6,121.4 431.6,121.4 432.6,121.5 433.5,121.5 434.5,121.5 435.5,121.5 436.5,121.5 437.5,121.5 438.5,121.5 439.5,121.5 440.5,121.5 441.5,121.5 442.5,121.5 443.5,121.5 444.5,121.4 445.5,121.4 446.5,121.3 447.5,121.3 448.5,121.2 449.5,121.1 450.4,121 451.4,120.9 452.4,120.8 453.4,120.7 454.4,120.6 455.4,120.5 456.4,120.4 457.4,120.2 458.4,120 459.4,119.8 460.4,119.7 461.4,119.5 462.4,119.4 463.4,119.2 464.4,119.1 465.4,118.9 466.4,118.8 467.3,118.6 468.3,118.4 469.3,118.2 470.3,117.9 471.3,117.6 472.3,117.2 473.3,116.8 474.3,116.3 475.3,115.7 476.3,115.1 477.3,114.5 478.3,113.8 479.3,113 480.3,112.2 481.3,111.2 482.3,110.1 483.2,109 484.2,107.8 485.2,106.6 486.2,105.1 487.2,103.6 488.2,101.9 489.2,100.2 490.2,98.4 491.2,96.6 492.2,94.7 493.2,92.6 494.2,90.5 495.2,88.5 496.2,86.6 497.2,84.7 498.2,82.9 499.2,81.2 500.1,79.7 501.1,78.5 502.1,77.5 503.1,76.5 504.1,75.9 505.1,75.6 506.1,75.5 507.1,75.5 508.1,75.5 509.1,75.7 510.1,76.2 511.1,76.8 512.1,77.9 513.1,79.3 514.1,81 515.1,83.2 516.1,85.7 517,88.6 518,92 519,95.3 520,98.1 521,100.8 522,103.7 523,106.7 524,109.5 525,112.1 526,114.4 527,116.5 528,118.2 529,119.7 530,121 531,121.8 532,122.3 533,122.6 533.9,122.9 534.9,123.1 535.9,123.3 536.9,123.4 537.9,123.5 538.9,123.5 539.9,123.5 540.9,123.5 541.9,123.5" fill="none" stroke="#ff3434" stroke-width="1.0" stroke-linejoin="round"/>
<rect x="390.3" y="6.6" width="152.1" height="125.2" fill="none" stroke="#333" stroke-width="1.1"/>
<path d="M389.8,131.8 H542.9" stroke="#111" stroke-width="1.2"/>
<path d="M390.3,131.8v2.3M420.7,131.8v2.3M451.1,131.8v2.3M481.5,131.8v2.3M511.9,131.8v2.3M542.3,131.8v2.3M405.5,131.8v1.5M435.9,131.8v1.5M466.3,131.8v1.5M496.7,131.8v1.5M527.1,131.8v1.5" stroke="#111" stroke-width="0.8"/>
<text x="386.9" y="139.8" font-size="6.0" textLength="6.9" lengthAdjust="spacingAndGlyphs" fill="#111" stroke="#111" stroke-width="0.08">406</text>
<text x="417.2" y="139.8" font-size="6.0" textLength="6.9" lengthAdjust="spacingAndGlyphs" fill="#111" stroke="#111" stroke-width="0.08">404</text>
<text x="447.7" y="139.8" font-size="6.0" textLength="6.9" lengthAdjust="spacingAndGlyphs" fill="#111" stroke="#111" stroke-width="0.08">402</text>
<text x="478.1" y="139.8" font-size="6.0" textLength="6.9" lengthAdjust="spacingAndGlyphs" fill="#111" stroke="#111" stroke-width="0.08">400</text>
<text x="508.4" y="139.8" font-size="6.0" textLength="6.9" lengthAdjust="spacingAndGlyphs" fill="#111" stroke="#111" stroke-width="0.08">398</text>
<text x="538.8" y="139.8" font-size="6.0" textLength="6.9" lengthAdjust="spacingAndGlyphs" fill="#111" stroke="#111" stroke-width="0.08">396</text>
<text x="466.5" y="150.2" font-size="5.5" font-weight="bold" text-anchor="middle" fill="#111" stroke="#111" stroke-width="0.08">Binding energy (eV)</text>
<text x="-19.5" y="0" font-size="6.3" font-weight="bold" textLength="39" lengthAdjust="spacingAndGlyphs" fill="#111" stroke="#111" stroke-width="0.18" transform="translate(381.1,72.2) rotate(-90)">Intensity (a.u.)</text>
<text x="368.2" y="20" font-size="15.6" font-weight="bold" fill="#000" stroke="#000" stroke-width="0.18">(c)</text>
<text x="527.9" y="17.9" font-size="8.0" font-weight="bold" textLength="12.5" lengthAdjust="spacingAndGlyphs" fill="#111" stroke="#111" stroke-width="0.18">N 1s</text>
<text x="393.4" y="45.6" font-size="7.0" textLength="39.4" lengthAdjust="spacingAndGlyphs" fill="#2a2a2a" stroke="#2a2a2a" stroke-width="0.1">NM88B@MXene</text>
<text x="394.9" y="111.6" font-size="7.0" textLength="18.2" lengthAdjust="spacingAndGlyphs" fill="#2a2a2a" stroke="#2a2a2a" stroke-width="0.1">NM88B</text>
<text x="405.2" y="53" font-size="6.4" font-weight="bold" textLength="22" lengthAdjust="spacingAndGlyphs" fill="#111" stroke="#111" stroke-width="0.22">406.15 eV</text>
<text x="414.1" y="116.2" font-size="6.4" font-weight="bold" textLength="22" lengthAdjust="spacingAndGlyphs" fill="#111" stroke="#111" stroke-width="0.22">405.32 eV</text>
<text x="459.6" y="33.1" font-size="6.4" font-weight="bold" textLength="22" lengthAdjust="spacingAndGlyphs" fill="#111" stroke="#111" stroke-width="0.22">398.54 eV</text>
<path d="M477.1,36.2 L484.2,44.8" stroke="#1f6fc6" stroke-width="1.0"/>
<path d="M485.9,46.8 L482.8,45.5 L485.2,43.5Z" fill="#1f6fc6"/>
<text x="519.3" y="35.8" font-size="6.4" font-weight="bold" textLength="22" lengthAdjust="spacingAndGlyphs" fill="#111" stroke="#111" stroke-width="0.22">398.26 eV</text>
<path d="M531.2,36.5 L524.6,40.6" stroke="#1f6fc6" stroke-width="1.0"/>
<path d="M522.4,42 L524.1,39.1 L525.8,41.8Z" fill="#1f6fc6"/>
<text x="465.8" y="100.3" font-size="6.4" font-weight="bold" textLength="22" lengthAdjust="spacingAndGlyphs" fill="#111" stroke="#111" stroke-width="0.22">398.35 eV</text>
<path d="M482.6,101.8 L485.8,108" stroke="#1f6fc6" stroke-width="1.0"/>
<path d="M487,110.3 L484.2,108.4 L487,106.9Z" fill="#1f6fc6"/>
<text x="519.3" y="89.7" font-size="6.4" font-weight="bold" textLength="22" lengthAdjust="spacingAndGlyphs" fill="#111" stroke="#111" stroke-width="0.22">398.29 eV</text>
<path d="M526.1,91.2 L522.8,98.1" stroke="#1f6fc6" stroke-width="1.0"/>
<path d="M521.7,100.4 L521.6,97 L524.4,98.4Z" fill="#1f6fc6"/>
<path d="M60,197.3 61,197.3 62,197.3 63,197.3 64,197.3 65,197.3 66,197.3 67,197.3 68,197.3 69,197.3 70,197.3 71,197.3 72,197.3 73,197.3 74,197.3 75,197.2 76,197.2 77,197.1 78,197.1 79,197 80,196.9 81,196.8 82,196.7 83,196.5 84,196.4 85,196.2 86,196 87,195.7 88,195.5 89,195.2 90,194.9 91,194.6 92,194.2 93,193.9 94,193.5 95,193.2 96,192.8 97,192.4 98,192.1 99,191.8 100,191.5 101,191.2 102,190.9 103,190.7 104,190.6 105,190.5 106,190.4 107,190.4 108,190.5 109,190.6 110,190.9 111,191.3 112,191.8 113,192.3 114,192.8 115,193.4 116,194 117,194.5 118,195 119,195.5 120,195.9 121,196.3 122,196.7 123,197 124,197.2 125,197.4 126,197.5 127,197.7 128,197.8 129,197.9 130,197.9 130,198 60,197.3Z" fill="#f6dca6"/>
<path d="M95,197.6 96,197.6 97,197.5 98,197.4 99,197.3 100,197.1 101,196.8 102,196.4 103,195.9 104,195.2 105,194.4 106,193.4 107,192.2 108,191 109,189.6 110,188.2 111,186.8 112,185.6 113,184.6 114,183.8 115,183.4 116,183.4 117,184 118,185 119,186.4 120,188.1 121,189.8 122,191.6 123,193.1 124,194.4 125,195.5 126,196.3 127,196.9 128,197.3 129,197.6 130,197.8 131,197.9 132,198 133,198 134,198.1 135,198.1 135,198.1 95,197.7Z" fill="#b3aef0"/>
<path d="M120,196.3 121,196 122,195.7 123,195.4 124,195 125,194.6 126,194.2 127,193.8 128,193.3 129,192.8 130,192.3 131,191.8 132,191.3 133,190.8 134,190.4 135,189.9 136,189.6 137,189.2 138,188.9 139,188.7 140,188.6 141,188.5 142,188.5 143,188.6 144,188.8 145,189.1 146,189.4 147,189.9 148,190.5 149,191 150,191.7 151,192.3 152,193 153,193.6 154,194.2 155,194.8 156,195.3 157,195.8 158,196.2 159,196.6 160,196.9 161,197.2 162,197.5 163,197.7 164,197.8 165,198 166,198.1 167,198.2 168,198.3 169,198.3 170,198.4 171,198.4 172,198.4 173,198.5 174,198.5 175,198.5 175,198.5 120,197.9Z" fill="#12e4ee"/>
<path d="M100,197.7 101,197.7 102,197.7 103,197.7 104,197.7 105,197.6 106,197.6 107,197.4 108,197.3 109,197 110,196.7 111,196.2 112,195.6 113,194.7 114,193.7 115,192.5 116,191.1 117,189.4 118,187.7 119,185.8 120,183.9 121,182.1 122,180.5 123,179.2 124,178.3 125,177.8 126,177.7 127,178.2 128,179 129,180.3 130,181.9 131,183.7 132,185.6 133,187.4 134,189.3 135,191 136,192.5 137,193.7 138,194.8 139,195.7 140,196.4 141,196.9 142,197.3 143,197.6 144,197.8 145,198 146,198.1 147,198.1 148,198.2 149,198.2 150,198.2 151,198.2 152,198.3 152,198.3 100,197.7Z" fill="#0be856"/>
<path d="M25.1,197.1L182.3,198.8" stroke="#d0782c" stroke-width="0.6"/>
<path d="M108,179.8 109.2,178.6 110.4,177.7 111.5,176.3 112.7,175 113.9,173.8 115.1,172.6 116.3,170.9 117.5,169.4 118.6,167.5 119.8,166.4 121,165.3 122.2,164.7 123.4,164.3 124.5,164.5 125.7,165.8 126.9,166.7 128.1,167.7 129.3,169 130.5,170 131.6,171.4 132.8,173 134,174.5 135.2,176 136.4,177.3 137.5,177.6 138.7,178.8 139.9,179.6 141.1,180.1 142.3,180.3 143.5,181 144.6,180.9 145.8,181.9 147,182.3 148.2,182.6 149.4,183.1 150.5,184.5 151.7,185.3 152.9,187 154.1,188.7 155.3,189.8 156.5,191 157.6,192.3 158.8,193.3 160,194.1" fill="none" stroke="#777" stroke-width="0.55" stroke-linejoin="round"/>
<path d="M25.1,196.8 26.1,196.8 27.1,196.8 28.1,196.8 29.1,196.8 30.1,196.8 31.1,196.8 32.1,196.8 33.1,196.8 34.1,196.7 35,196.7 36,196.7 37,196.7 38,196.7 39,196.7 40,196.6 41,196.6 42,196.6 43,196.6 44,196.5 45,196.5 46,196.5 47,196.5 48,196.4 49,196.4 50,196.4 51,196.3 52,196.3 53,196.3 54,196.2 54.9,196.2 55.9,196.2 56.9,196.1 57.9,196.1 58.9,196 59.9,196 60.9,196 61.9,195.9 62.9,195.8 63.9,195.7 64.9,195.6 65.9,195.5 66.9,195.4 67.9,195.3 68.9,195.2 69.9,195.1 70.9,195 71.9,194.9 72.9,194.8 73.9,194.7 74.8,194.6 75.8,194.5 76.8,194.4 77.8,194.3 78.8,194.1 79.8,194 80.8,193.9 81.8,193.8 82.8,193.6 83.8,193.5 84.8,193.3 85.8,193.2 86.8,193 87.8,192.8 88.8,192.6 89.8,192.4 90.8,192.2 91.8,192 92.8,191.7 93.8,191.4 94.7,191.1 95.7,190.8 96.7,190.5 97.7,190.1 98.7,189.8 99.7,189.3 100.7,188.8 101.7,188.2 102.7,187.5 103.7,186.8 104.7,186 105.7,185.1 106.7,184.1 107.7,183.1 108.7,182 109.7,180.8 110.7,179.5 111.7,178 112.7,176.6 113.6,175.5 114.6,174.5 115.6,173.6 116.6,172.7 117.6,171.8 118.6,170.9 119.6,170 120.6,169.1 121.6,167.9 122.6,167.2 123.6,167.3 124.6,167.6 125.6,168 126.6,168.5 127.6,169 128.6,169.7 129.6,170.5 130.6,171.4 131.6,172.4 132.6,173.4 133.5,174.5 134.5,175.5 135.5,176.6 136.5,177.7 137.5,178.8 138.5,179.9 139.5,180.8 140.5,181.4 141.5,181.9 142.5,182.4 143.5,182.8 144.5,183.2 145.5,183.8 146.5,184.3 147.5,184.8 148.5,185.4 149.5,186 150.5,186.7 151.5,187.6 152.5,188.5 153.4,189.4 154.4,190.3 155.4,191.2 156.4,192.1 157.4,193 158.4,193.8 159.4,194.5 160.4,195.1 161.4,195.7 162.4,196.1 163.4,196.6 164.4,196.9 165.4,197.2 166.4,197.5 167.4,197.7 168.4,197.9 169.4,198 170.4,198.1 171.4,198.2 172.4,198.3 173.3,198.3 174.3,198.4 175.3,198.4 176.3,198.5 177.3,198.5 178.3,198.5 179.3,198.6 180.3,198.6 181.3,198.6 182.3,198.6" fill="none" stroke="#ff3434" stroke-width="1.0" stroke-linejoin="round"/>
<path d="M110,240.7 111,240.7 112,240.7 113,240.6 114,240.5 115,240.4 116,240.3 117,240.1 118,239.9 119,239.6 120,239.2 121,238.8 122,238.2 123,237.6 124,236.8 125,236 126,235.1 127,234.1 128,233 129,232 130,230.9 131,229.9 132,229 133,228.3 134,227.6 135,227.2 136,227 137,226.9 138,227.1 139,227.3 140,227.7 141,228.1 142,228.7 143,229.3 144,230.1 145,230.8 146,231.6 147,232.4 148,233.2 149,234 150,234.8 151,235.6 152,236.2 153,236.9 154,237.5 155,238 156,238.5 157,238.9 158,239.3 159,239.6 160,239.9 161,240.1 162,240.3 163,240.5 164,240.6 165,240.7 166,240.8 167,240.9 168,241 168,241.1 110,240.8Z" fill="#12e4ee"/>
<path d="M125,240.8 126,240.8 127,240.8 128,240.7 129,240.6 130,240.5 131,240.3 132,240 133,239.6 134,239.2 135,238.5 136,237.8 137,236.9 138,235.8 139,234.7 140,233.4 141,232.1 142,230.9 143,229.7 144,228.7 145,227.9 146,227.3 147,227.1 148,227.2 149,227.6 150,228.3 151,229.3 152,230.4 153,231.7 154,233 155,234.3 156,235.5 157,236.6 158,237.6 159,238.4 160,239.1 161,239.6 162,240 163,240.4 164,240.6 165,240.8 166,240.9 167,241 168,241 169,241.1 170,241.1 171,241.1 172,241.1 172,241.1 125,240.9Z" fill="#f3bde6" fill-opacity="0.72"/>
<path d="M133,239.6 134,239.2 135,238.5 136,237.8 137,236.9 138,235.8 139,234.7 140,233.4 141,232.1 142,230.9 143,229.7 144,228.7 145,227.9 146,227.3 147,227.1 148,227.2 149,227.6 150,228.3 151,229.3 152,230.4 153,231.7 154,233 155,234.3 156,235.5 157,236.6 158,237.6 159,238.4 160,239.1 161,239.6 162,240 163,240.4 164,240.6 165,240.8" fill="none" stroke="#ee9ad6" stroke-width="0.5" stroke-linejoin="round"/>
<path d="M45,240.4 46,240.4 47,240.4 48,240.4 49,240.4 50,240.4 51,240.4 52,240.4 53,240.4 54,240.3 54.9,240.3 55.9,240.3 56.9,240.3 57.9,240.3 58.9,240.2 59.9,240.2 60.9,240.2 61.9,240.1 62.9,240.1 63.9,240.1 64.9,240 65.9,239.9 66.9,239.9 67.9,239.8 68.9,239.7 69.9,239.6 70.9,239.5 71.9,239.4 72.9,239.3 73.9,239.1 74.8,239 75.8,238.8 76.8,238.7 77.8,238.5 78.8,238.3 79.8,238.1 80.8,237.9 81.8,237.7 82.8,237.4 83.8,237.2 84.8,236.9 85.8,236.6 86.8,236.3 87.8,236 88.8,235.7 89.8,235.4 90.8,235 91.8,234.7 92.8,234.3 93.8,234 94.7,233.6 95.7,233.2 96.7,232.8 97.7,232.5 98.7,232.1 99.7,231.7 100.7,231.4 101.7,231 102.7,230.7 103.7,230.3 104.7,230 105.7,229.7 106.7,229.4 107.7,229.1 108.7,228.8 109.7,228.6 110.7,228.4 111.7,228.2 112.7,228 113.7,227.9 114.6,227.8 115.6,227.7 116.6,227.7 117.6,227.6 118.6,227.6 119.6,227.7 120.6,227.8 121.6,227.9 122.6,228 123.6,228.2 124.6,228.3 125.6,228.6 126.6,228.8 127.6,229.1 128.6,229.4 129.6,229.7 130.6,230 131.6,230.4 132.6,230.7 133.5,231.1 134.5,231.5 135.5,231.9 136.5,232.3 137.5,232.7 138.5,233.1 139.5,233.5 140.5,233.9 141.5,234.3 142.5,234.7 143.5,235.1 144.5,235.5 145.5,235.8 146.5,236.2 147.5,236.5 148.5,236.8 149.5,237.2 150.5,237.5 151.5,237.7 152.5,238 153.4,238.3 154.4,238.5 155.4,238.7 156.4,238.9 157.4,239.1 158.4,239.3 159.4,239.5 160.4,239.7 161.4,239.8 162.4,239.9 163.4,240.1 164.4,240.2 165.4,240.3 166.4,240.4 167.4,240.5 168.4,240.6 169.4,240.6 170.4,240.7 171.4,240.8 172.4,240.8 173.3,240.9 174.3,240.9 175.3,240.9 176.3,241 177.3,241 178.3,241 179.3,241.1 180.3,241.1 181.3,241.1 182.3,241.1 182.3,241.2 45,240.4Z" fill="#0be856"/>
<path d="M25.1,240.5L182.3,241.4" stroke="#d0782c" stroke-width="0.6"/>
<path d="M100,228.1 101.2,227.4 102.4,226.6 103.6,225.9 104.8,224.9 106,224.3 107.2,222.7 108.4,222.3 109.6,222 110.8,221.1 112,220.7 113.2,219.5 114.4,219.3 115.6,218.7 116.8,218.6 118,218.2 119.2,217.4 120.4,217.1 121.6,216.6 122.8,216.4 124,215.5 125.2,214.1 126.4,213.7 127.6,212.3 128.8,211.9 130,210.7" fill="none" stroke="#777" stroke-width="0.55" stroke-linejoin="round"/>
<path d="M25.1,240.1 26.1,240.1 27.1,240.1 28.1,240.1 29.1,240.1 30.1,240.1 31.1,240.1 32.1,240.1 33.1,240.1 34.1,240.1 35,240.1 36,240.1 37,240.1 38,240.1 39,240.1 40,240.1 41,240.1 42,240.1 43,240.1 44,240.1 45,240.1 46,240.1 47,240.1 48,240.1 49,240.1 50,240.1 51,240 52,240 53,240 54,240 54.9,240 55.9,240 56.9,240 57.9,240 58.9,240 59.9,240 60.9,240 61.9,240 62.9,239.9 63.9,239.8 64.9,239.8 65.9,239.7 66.9,239.6 67.9,239.5 68.9,239.4 69.9,239.3 70.9,239.2 71.9,239.1 72.9,239 73.9,238.9 74.8,238.8 75.8,238.7 76.8,238.6 77.8,238.5 78.8,238.3 79.8,238.1 80.8,237.9 81.8,237.7 82.8,237.3 83.8,237 84.8,236.7 85.8,236.3 86.8,236 87.8,235.7 88.8,235.4 89.8,235 90.8,234.6 91.8,234.1 92.8,233.7 93.8,233.2 94.7,232.6 95.7,232.1 96.7,231.5 97.7,230.9 98.7,230.4 99.7,229.8 100.7,229.2 101.7,228.6 102.7,228 103.7,227.4 104.7,226.9 105.7,226.3 106.7,225.7 107.7,225.2 108.7,224.7 109.7,224.2 110.7,223.7 111.7,223.3 112.7,222.9 113.6,222.6 114.6,222.2 115.6,221.7 116.6,221.2 117.6,220.7 118.6,220.2 119.6,219.6 120.6,219.1 121.6,218.5 122.6,217.9 123.6,217.3 124.6,216.6 125.6,215.8 126.6,215 127.6,214 128.6,213.1 129.6,212.2 130.6,211.3 131.6,210.5 132.6,209.8 133.5,209.3 134.5,208.9 135.5,208.5 136.5,208.3 137.5,208.3 138.5,208.6 139.5,209.1 140.5,209.6 141.5,210.3 142.5,211.3 143.5,212.4 144.5,213.8 145.5,215.5 146.5,217.1 147.5,218.7 148.5,220.4 149.5,222.1 150.5,223.8 151.5,225.7 152.5,227.6 153.4,229.4 154.4,231 155.4,232.6 156.4,233.8 157.4,234.9 158.4,235.9 159.4,236.7 160.4,237.4 161.4,238 162.4,238.5 163.4,239 164.4,239.4 165.4,239.7 166.4,240 167.4,240.2 168.4,240.4 169.4,240.5 170.4,240.6 171.4,240.7 172.4,240.8 173.3,240.9 174.3,240.9 175.3,241 176.3,241 177.3,241.1 178.3,241.1 179.3,241.2 180.3,241.2 181.3,241.2 182.3,241.2" fill="none" stroke="#ff3434" stroke-width="1.0" stroke-linejoin="round"/>
<path d="M65,284.6 66,284.6 67,284.6 68,284.6 69,284.6 70,284.6 71,284.6 72,284.6 73,284.6 74,284.5 75,284.5 76,284.5 77,284.4 78,284.4 79,284.3 80,284.2 81,284.1 82,284 83,283.9 84,283.7 85,283.5 86,283.2 87,282.9 88,282.6 89,282.3 90,281.9 91,281.5 92,281 93,280.6 94,280.1 95,279.6 96,279.1 97,278.6 98,278.2 99,277.8 100,277.4 101,277 102,276.7 103,276.5 104,276.4 105,276.3 106,276.3 107,276.4 108,276.7 109,277 110,277.4 111,277.8 112,278.3 113,278.9 114,279.5 115,280.1 116,280.7 117,281.2 118,281.7 119,282.2 120,282.7 121,283.1 122,283.5 123,283.8 124,284 125,284.3 126,284.5 127,284.6 128,284.7 129,284.8 130,284.9 131,285 132,285 133,285.1 134,285.1 135,285.1 135,285.2 65,284.6Z" fill="#b3aef0"/>
<path d="M118,284.9 119,284.8 120,284.7 121,284.6 122,284.5 123,284.3 124,284.1 125,283.8 126,283.4 127,283 128,282.6 129,282.1 130,281.5 131,280.8 132,280.2 133,279.4 134,278.7 135,278 136,277.3 137,276.6 138,276.1 139,275.6 140,275.2 141,275 142,274.8 143,274.9 144,275.1 145,275.4 146,275.9 147,276.4 148,277.1 149,277.8 150,278.5 151,279.3 152,280.1 153,280.8 154,281.5 155,282.1 156,282.7 157,283.2 158,283.6 159,284 160,284.3 161,284.6 162,284.8 163,285 164,285.1 165,285.2 166,285.3 167,285.3 168,285.4 169,285.4 170,285.4 171,285.5 172,285.5 173,285.5 174,285.5 175,285.5 175,285.5 118,285Z" fill="#12e4ee"/>
<path d="M90,283.8 91,283.8 92,283.7 93,283.7 94,283.6 95,283.5 96,283.4 97,283.2 98,283.1 99,282.9 100,282.6 101,282.3 102,282 103,281.5 104,281 105,280.3 106,279.6 107,278.7 108,277.7 109,276.6 110,275.3 111,273.9 112,272.4 113,270.7 114,269 115,267.3 116,265.5 117,263.7 118,262.1 119,260.7 120,259.6 121,258.7 122,258.3 123,258.3 124,259 125,260.1 126,261.7 127,263.6 128,265.7 129,267.8 130,269.9 131,271.9 132,273.8 133,275.5 134,277.1 135,278.4 136,279.5 137,280.5 138,281.3 139,281.9 140,282.4 141,282.8 142,283.2 143,283.4 144,283.7 145,283.8 146,284 147,284.1 148,284.2 149,284.3 150,284.4 151,284.5 152,284.5 153,284.6 154,284.6 155,284.7 156,284.7 157,284.8 158,284.8 159,284.9 160,284.9 160,285.4 90,284.8Z" fill="#0be856"/>
<path d="M25.1,284.4L182.3,285.8" stroke="#d0782c" stroke-width="0.6"/>
<path d="M136,266.7 137.1,267.6 138.3,268.2 139.4,268.7 140.6,269.1 141.7,270.1 142.9,270.4 144,271.2 145.1,271.5 146.3,272.5 147.4,272.9 148.6,274.2 149.7,275.2 150.9,276.1 152,277.5" fill="none" stroke="#777" stroke-width="0.55" stroke-linejoin="round"/>
<path d="M25.1,284 26.1,284 27.1,284 28.1,284 29.1,284 30.1,284 31.1,284 32.1,284 33.1,284 34.1,284 35,284 36,284 37,284 38,284 39,284 40,284 41,284 42,284 43,284 44,284 45,284 46,284 47,284 48,284 49,284 50,284 51,284 52,284 53,284 54,284 54.9,284 55.9,284 56.9,284 57.9,284 58.9,284 59.9,284 60.9,284 61.9,284 62.9,284 63.9,284 64.9,284 65.9,284 66.9,284 67.9,283.9 68.9,283.9 69.9,283.9 70.9,283.9 71.9,283.8 72.9,283.7 73.9,283.5 74.8,283.4 75.8,283.2 76.8,283 77.8,282.8 78.8,282.5 79.8,282.3 80.8,282.1 81.8,281.9 82.8,281.7 83.8,281.4 84.8,281.1 85.8,280.8 86.8,280.5 87.8,280.2 88.8,279.9 89.8,279.6 90.8,279.2 91.8,278.9 92.8,278.5 93.8,278.1 94.7,277.6 95.7,277.2 96.7,276.7 97.7,276.2 98.7,275.7 99.7,275.2 100.7,274.6 101.7,273.9 102.7,273.2 103.7,272.5 104.7,271.7 105.7,270.8 106.7,269.8 107.7,268.7 108.7,267.5 109.7,266.3 110.7,265 111.7,263.5 112.7,262 113.6,260.5 114.6,259.1 115.6,257.8 116.6,256.6 117.6,255.4 118.6,254.3 119.6,253.5 120.6,252.8 121.6,252.2 122.6,251.9 123.6,252.2 124.6,252.9 125.6,253.8 126.6,255 127.6,256.6 128.6,258.3 129.6,259.9 130.6,261.3 131.6,262.6 132.6,264 133.5,265.2 134.5,266.4 135.5,267.3 136.5,268.1 137.5,268.9 138.5,269.6 139.5,270.2 140.5,270.8 141.5,271.3 142.5,271.8 143.5,272.3 144.5,272.9 145.5,273.5 146.5,274.3 147.5,275.2 148.5,276.2 149.5,277 150.5,277.9 151.5,278.7 152.5,279.5 153.4,280.3 154.4,281 155.4,281.7 156.4,282.3 157.4,282.9 158.4,283.4 159.4,283.8 160.4,284.1 161.4,284.4 162.4,284.6 163.4,284.8 164.4,284.9 165.4,285 166.4,285.1 167.4,285.2 168.4,285.2 169.4,285.3 170.4,285.3 171.4,285.4 172.4,285.4 173.3,285.4 174.3,285.5 175.3,285.5 176.3,285.5 177.3,285.5 178.3,285.6 179.3,285.6 180.3,285.6 181.3,285.6 182.3,285.6" fill="none" stroke="#ff3434" stroke-width="1.0" stroke-linejoin="round"/>
<rect x="24.6" y="159.7" width="158.2" height="130.4" fill="none" stroke="#333" stroke-width="1.1"/>
<path d="M24.1,290.1 H183.3" stroke="#111" stroke-width="1.2"/>
<path d="M24.4,290.1v2.3M51,290.1v2.3M77.6,290.1v2.3M104.3,290.1v2.3M130.9,290.1v2.3M157.5,290.1v2.3M184.1,290.1v2.3M37.7,290.1v1.5M64.3,290.1v1.5M90.9,290.1v1.5M117.6,290.1v1.5M144.2,290.1v1.5M170.8,290.1v1.5" stroke="#111" stroke-width="0.8"/>
<text x="20.9" y="299" font-size="6.0" textLength="6.9" lengthAdjust="spacingAndGlyphs" fill="#111" stroke="#111" stroke-width="0.08">538</text>
<text x="47.6" y="299" font-size="6.0" textLength="6.9" lengthAdjust="spacingAndGlyphs" fill="#111" stroke="#111" stroke-width="0.08">536</text>
<text x="74.2" y="299" font-size="6.0" textLength="6.9" lengthAdjust="spacingAndGlyphs" fill="#111" stroke="#111" stroke-width="0.08">534</text>
<text x="100.8" y="299" font-size="6.0" textLength="6.9" lengthAdjust="spacingAndGlyphs" fill="#111" stroke="#111" stroke-width="0.08">532</text>
<text x="127.4" y="299" font-size="6.0" textLength="6.9" lengthAdjust="spacingAndGlyphs" fill="#111" stroke="#111" stroke-width="0.08">530</text>
<text x="154.1" y="299" font-size="6.0" textLength="6.9" lengthAdjust="spacingAndGlyphs" fill="#111" stroke="#111" stroke-width="0.08">528</text>
<text x="180.7" y="299" font-size="6.0" textLength="6.9" lengthAdjust="spacingAndGlyphs" fill="#111" stroke="#111" stroke-width="0.08">526</text>
<text x="103.5" y="308.3" font-size="5.6" font-weight="bold" text-anchor="middle" fill="#111" stroke="#111" stroke-width="0.08">Binding energy (eV)</text>
<text x="-20.8" y="0" font-size="6.5" font-weight="bold" textLength="41.6" lengthAdjust="spacingAndGlyphs" fill="#111" stroke="#111" stroke-width="0.18" transform="translate(16.2,222.1) rotate(-90)">Intensity (a.u.)</text>
<text x="4.9" y="172.7" font-size="15.6" font-weight="bold" fill="#000" stroke="#000" stroke-width="0.18">(d)</text>
<text x="166" y="171.6" font-size="8.2" font-weight="bold" textLength="13.8" lengthAdjust="spacingAndGlyphs" fill="#111" stroke="#111" stroke-width="0.18">O 1s</text>
<text x="34.7" y="180.1" font-size="7.0" textLength="40.5" lengthAdjust="spacingAndGlyphs" fill="#2a2a2a" stroke="#2a2a2a" stroke-width="0.1">NM88B@MXene</text>
<text x="34.2" y="230.4" font-size="7.0" textLength="16.4" lengthAdjust="spacingAndGlyphs" fill="#2a2a2a" stroke="#2a2a2a" stroke-width="0.1">MXene</text>
<text x="33.1" y="274.6" font-size="7.0" textLength="19" lengthAdjust="spacingAndGlyphs" fill="#2a2a2a" stroke="#2a2a2a" stroke-width="0.1">NM88B</text>
<text x="77.7" y="181.4" font-size="6.4" font-weight="bold" textLength="22" lengthAdjust="spacingAndGlyphs" fill="#111" stroke="#111" stroke-width="0.22">530.60 eV</text>
<path d="M91.8,182 L97.8,189.3" stroke="#1f6fc6" stroke-width="1.0"/>
<path d="M99.4,191.3 L96.3,190 L98.7,188Z" fill="#1f6fc6"/>
<text x="94.8" y="170.8" font-size="6.4" font-weight="bold" textLength="22" lengthAdjust="spacingAndGlyphs" fill="#111" stroke="#111" stroke-width="0.22">530.50 eV</text>
<path d="M106.7,172.6 L112.4,184" stroke="#1f6fc6" stroke-width="1.0"/>
<path d="M113.6,186.3 L110.8,184.3 L113.7,182.9Z" fill="#1f6fc6"/>
<text x="135.2" y="169.5" font-size="6.4" font-weight="bold" textLength="22" lengthAdjust="spacingAndGlyphs" fill="#111" stroke="#111" stroke-width="0.22">530.03 eV</text>
<path d="M142.3,171.1 L131.3,178.2" stroke="#1f6fc6" stroke-width="1.0"/>
<path d="M129.1,179.6 L130.8,176.6 L132.5,179.3Z" fill="#1f6fc6"/>
<text x="153" y="185.2" font-size="6.4" font-weight="bold" textLength="22" lengthAdjust="spacingAndGlyphs" fill="#111" stroke="#111" stroke-width="0.22">528.68 eV</text>
<path d="M158.4,186.3 L153.8,190.2" stroke="#1f6fc6" stroke-width="1.0"/>
<path d="M151.8,191.9 L153.1,188.7 L155.1,191.2Z" fill="#1f6fc6"/>
<text x="87.1" y="220.7" font-size="6.4" font-weight="bold" textLength="22" lengthAdjust="spacingAndGlyphs" fill="#111" stroke="#111" stroke-width="0.22">531.13 eV</text>
<path d="M97.5,222 L101.8,229" stroke="#1f6fc6" stroke-width="1.0"/>
<path d="M103.2,231.2 L100.3,229.5 L103,227.8Z" fill="#1f6fc6"/>
<text x="147.1" y="209.8" font-size="6.4" font-weight="bold" textLength="22" lengthAdjust="spacingAndGlyphs" fill="#111" stroke="#111" stroke-width="0.22">529.40 eV</text>
<path d="M150.3,211.4 L139.3,223.7" stroke="#1f6fc6" stroke-width="1.0"/>
<path d="M137.6,225.6 L138.4,222.3 L140.8,224.4Z" fill="#1f6fc6"/>
<text x="156.6" y="226.8" font-size="6.4" font-weight="bold" textLength="22" lengthAdjust="spacingAndGlyphs" fill="#111" stroke="#111" stroke-width="0.22">528.53 eV</text>
<path d="M162.8,228.6 L157.5,233.3" stroke="#1f6fc6" stroke-width="1.0"/>
<path d="M155.6,235 L156.8,231.8 L158.9,234.2Z" fill="#1f6fc6"/>
<text x="79.2" y="265.9" font-size="6.4" font-weight="bold" textLength="22" lengthAdjust="spacingAndGlyphs" fill="#111" stroke="#111" stroke-width="0.22">530.56 eV</text>
<path d="M89.7,267.6 L95.5,275.4" stroke="#1f6fc6" stroke-width="1.0"/>
<path d="M97.1,277.5 L94,276.1 L96.6,274.1Z" fill="#1f6fc6"/>
<text x="128.6" y="256.9" font-size="6.4" font-weight="bold" textLength="22" lengthAdjust="spacingAndGlyphs" fill="#111" stroke="#111" stroke-width="0.22">530.54 eV</text>
<path d="M134.1,258.3 L131.2,263.6" stroke="#1f6fc6" stroke-width="1.0"/>
<path d="M129.9,265.9 L130,262.5 L132.8,264Z" fill="#1f6fc6"/>
<text x="152.3" y="262.8" font-size="6.4" font-weight="bold" textLength="22" lengthAdjust="spacingAndGlyphs" fill="#111" stroke="#111" stroke-width="0.22">528.82 eV</text>
<path d="M157.4,264.6 L151.7,274.8" stroke="#1f6fc6" stroke-width="1.0"/>
<path d="M150.4,277.1 L150.5,273.7 L153.3,275.3Z" fill="#1f6fc6"/>
<path d="M318,205.6 319,205.7 320,205.7 321,205.7 321.9,205.7 322.9,205.5 323.9,205.2 324.9,204.8 325.9,204.1 326.9,203.2 327.9,202 328.8,200.6 329.8,198.9 330.8,196.8 331.8,194.6 332.8,192.1 333.8,189.4 334.7,186.7 335.7,184 336.7,181.5 337.7,179.2 338.7,177.3 339.7,175.9 340.7,175 341.6,174.7 342.6,175.1 343.6,175.7 344.6,176.7 345.6,177.9 346.6,179.5 347.6,181.2 348.5,183.1 349.5,185.1 350.5,187.1 351.5,189.3 352.5,191.6 353.5,193.8 354.4,196 355.4,198.2 356.4,200.3 357.4,202.3 358.4,204.1 359.4,205.9 360.4,207.5 361.3,209 362.3,210.3 363.3,211.5 364.3,212.5 364.3,217 363.3,216.9 362.3,216.7 361.3,216.6 360.4,216.4 359.4,216.2 358.4,216.1 357.4,215.9 356.4,215.8 355.4,215.6 354.4,215.5 353.5,215.3 352.5,215.2 351.5,215 350.5,214.9 349.5,214.7 348.5,214.6 347.6,214.4 346.6,214.2 345.6,214.1 344.6,213.9 343.6,213.8 342.6,213.6 341.6,213.5 340.7,213.3 339.7,213.2 338.7,213 337.7,212.9 336.7,212.7 335.7,212.6 334.7,212.4 333.8,212.3 332.8,212.1 331.8,211.9 330.8,211.8 329.8,211.6 328.8,211.5 327.9,211.3 326.9,211.2 325.9,211 324.9,210.9 323.9,210.7 322.9,210.6 321.9,210.4 321,210.3 320,210.1 319,209.9 318,209.8Z" fill="#12e4ee"/>
<path d="M206.4,192.4 207.4,192.6 208.4,192.7 209.4,192.7 210.4,192.7 211.4,192.8 212.4,192.8 213.4,192.9 214.4,192.9 215.4,193 216.4,193 217.4,193.1 218.4,193.1 219.4,193.2 220.4,193.2 221.4,193.3 222.4,193.3 223.4,193.4 224.4,193.4 225.4,193.5 226.4,193.6 227.4,193.6 228.4,193.7 229.4,193.8 230.4,193.8 231.4,193.9 232.4,194 233.4,194 234.4,194.1 235.4,194.2 236.4,194.3 237.4,194.4 238.4,194.5 239.4,194.6 240.4,194.7 241.4,194.8 242.4,194.9 243.4,195 244.4,195.1 245.4,195.2 246.4,195.3 247.4,195.4 248.4,195.5 249.4,195.6 250.4,195.7 251.4,195.8 252.4,195.9 253.4,196 254.4,196.1 255.4,196.2 256.4,196.3 257.4,196.4 258.4,196.5 259.4,196.6 260.4,196.7 261.4,196.8 262.4,196.9 263.4,197 264.4,197.1 265.4,197.2 266.4,197.3 267.4,197.4 268.4,197.5 269.4,197.6 270.4,197.7 271.4,197.8 272.4,197.9 273.4,198 274.4,198.1 275.4,198.2 276.4,198.4 277.4,198.5 278.4,198.6 279.4,198.7 280.4,198.8 281.4,199 282.4,199.2 283.4,199.3 284.4,199.5 285.4,199.7 286.3,199.8 287.3,200 288.3,200.1 289.3,200.2 290.3,200.3 291.3,200.4 292.3,200.5 293.3,200.5 294.3,200.6 295.3,200.7 296.3,200.7 297.3,200.8 298.3,200.8 299.3,200.8 300.3,200.8 301.3,200.7 302.3,200.4 303.3,200.1 304.3,199.7 305.3,199.4 306.3,199 307.3,198.5 308.3,198 309.3,197.5 310.3,197 311.3,196.5 312.3,195.9 313.3,195.4 314.3,194.9 315.3,194.5 316.3,194 317.3,193.7 318.3,193.3 319.3,193.1 320.3,193 321.3,192.8 322.3,192.7 323.3,192.7 324.3,192.6 325.3,192.6 326.3,192.8 327.3,193.2 328.3,193.5 329.3,194.2 330.3,195 331.3,195.9 332.3,196.7 333.3,197.7 334.3,198.6 335.3,199.6 336.3,200.7 337.3,201.8 338.3,203 339.3,204.1 340.3,205.3 341.3,206.4 342.3,207.6 343.3,208.7 344.3,209.7 345.3,210.7 346.3,211.6 347.3,212.5 348.3,213.2 349.3,213.9 350.3,214.3 351.3,214.7 352.3,215 353.3,215.2 354.3,215.5 355.3,215.6 356.3,215.8 357.3,215.9 358.3,216.1 359.3,216.2 360.3,216.4 361.3,216.5 362.3,216.7 363.3,216.9 364.3,217 364.3,217 363.3,216.9 362.3,216.7 361.3,216.5 360.3,216.4 359.3,216.2 358.3,216.1 357.3,215.9 356.3,215.8 355.3,215.6 354.3,215.5 353.3,215.3 352.3,215.1 351.3,215 350.3,214.8 349.3,214.7 348.3,214.5 347.3,214.4 346.3,214.2 345.3,214.1 344.3,213.9 343.3,213.7 342.3,213.6 341.3,213.4 340.3,213.3 339.3,213.1 338.3,213 337.3,212.8 336.3,212.6 335.3,212.5 334.3,212.3 333.3,212.2 332.3,212 331.3,211.9 330.3,211.7 329.3,211.6 328.3,211.4 327.3,211.2 326.3,211.1 325.3,210.9 324.3,210.8 323.3,210.6 322.3,210.5 321.3,210.3 320.3,210.2 319.3,210 318.3,209.8 317.3,209.7 316.3,209.5 315.3,209.4 314.3,209.2 313.3,209.1 312.3,208.9 311.3,208.8 310.3,208.6 309.3,208.4 308.3,208.3 307.3,208.1 306.3,208 305.3,207.8 304.3,207.7 303.3,207.5 302.3,207.4 301.3,207.2 300.3,207 299.3,206.9 298.3,206.7 297.3,206.6 296.3,206.4 295.3,206.3 294.3,206.1 293.3,206 292.3,205.8 291.3,205.6 290.3,205.5 289.3,205.3 288.3,205.2 287.3,205 286.3,204.9 285.4,204.7 284.4,204.5 283.4,204.4 282.4,204.2 281.4,204.1 280.4,203.9 279.4,203.8 278.4,203.6 277.4,203.5 276.4,203.3 275.4,203.1 274.4,203 273.4,202.8 272.4,202.7 271.4,202.5 270.4,202.4 269.4,202.2 268.4,202.1 267.4,201.9 266.4,201.7 265.4,201.6 264.4,201.4 263.4,201.3 262.4,201.1 261.4,201 260.4,200.8 259.4,200.7 258.4,200.5 257.4,200.3 256.4,200.2 255.4,200 254.4,199.9 253.4,199.7 252.4,199.6 251.4,199.4 250.4,199.3 249.4,199.1 248.4,198.9 247.4,198.8 246.4,198.6 245.4,198.5 244.4,198.3 243.4,198.2 242.4,198 241.4,197.8 240.4,197.7 239.4,197.5 238.4,197.4 237.4,197.2 236.4,197.1 235.4,196.9 234.4,196.8 233.4,196.6 232.4,196.4 231.4,196.3 230.4,196.1 229.4,196 228.4,195.8 227.4,195.7 226.4,195.5 225.4,195.4 224.4,195.2 223.4,195 222.4,194.9 221.4,194.7 220.4,194.6 219.4,194.4 218.4,194.3 217.4,194.1 216.4,194 215.4,193.8 214.4,193.6 213.4,193.5 212.4,193.3 211.4,193.2 210.4,193 209.4,192.9 208.4,192.7 207.4,192.6 206.4,192.4Z" fill="#0be856"/>
<path d="M238,193.6 239,193.4 240,193.2 241,193.1 242,192.9 243,192.7 244,192.6 245,192.4 246,192.2 247,192.1 248,191.9 249,191.8 250,191.6 251,191.4 252,191.2 253,190.9 254,190.7 255,190.4 256,190.1 257,189.8 258,189.5 259,189.1 260,188.8 261,188.4 262,188 263,187.6 264,187.1 265,186.7 266,186.2 267,185.7 268,185.3 269,184.9 270,184.6 271,184.3 272,184 273,183.6 274,183.3 275,183 276,182.8 277,182.6 278,182.4 279,182.4 280,182.4 281,182.5 282,182.6 283,182.8 284,183 285,183.2 286,183.5 287,184.1 288,184.7 289,185.5 290,186.2 291,187 292,187.8 293,188.7 294,189.7 295,190.6 296,191.6 297,192.6 298,193.7 299,194.6 300,195.5 301,196.2 302,196.9 303,197.5 304,198.1 305,198.8 306,199.1 307,198.7 308,198.2 309,197.7 310,197.2 311,196.7 312,196.1 312,196.1 311,196.7 310,197.2 309,197.7 308,198.2 307,198.7 306,199.1 305,199.5 304,199.8 303,200.2 302,200.5 301,200.7 300,200.8 299,200.8 298,200.8 297,200.7 296,200.7 295,200.6 294,200.6 293,200.5 292,200.4 291,200.4 290,200.3 289,200.2 288,200.1 287,199.9 286,199.8 285,199.6 284,199.4 283,199.3 282,199.1 281,198.9 280,198.8 279,198.7 278,198.6 277,198.4 276,198.3 275,198.2 274,198.1 273,198 272,197.9 271,197.8 270,197.7 269,197.6 268,197.5 267,197.4 266,197.3 265,197.2 264,197.1 263,197 262,196.9 261,196.8 260,196.7 259,196.6 258,196.5 257,196.4 256,196.3 255,196.2 254,196.1 253,196 252,195.9 251,195.8 250,195.7 249,195.6 248,195.5 247,195.4 246,195.3 245,195.2 244,195 243,194.9 242,194.8 241,194.7 240,194.6 239,194.5 238,194.4Z" fill="#b3aef0"/>
<path d="M206.4,192.4 207.4,192.4 208.4,192.5 209.4,192.5 210.4,192.6 211.4,192.6 212.4,192.7 213.4,192.7 214.4,192.8 215.4,192.9 216.4,192.9 217.4,193 218.4,193 219.4,193.1 220.4,193.1 221.4,193.2 222.4,193.3 223.4,193.3 224.4,193.4 225.4,193.4 226.4,193.5 227.4,193.5 228.4,193.6 229.4,193.6 230.4,193.7 231.4,193.8 232.4,193.9 233.4,194 234.4,194.1 235.4,194.2 236.4,194.3 237.4,194.4 238.4,194.5 239.4,194.6 240.4,194.7 241.4,194.8 242.4,194.9 243.4,195 244.4,195.1 245.4,195.2 246.4,195.3 247.4,195.4 248.4,195.5 249.4,195.7 250.4,195.8 251.4,195.9 252.4,196 253.4,196.1 254.4,196.2 255.4,196.3 256.4,196.4 257.4,196.5 258.4,196.6 259.4,196.7 260.4,196.8 261.4,196.9 262.4,197 263.4,197.1 264.4,197.2 265.4,197.3 266.4,197.4 267.4,197.5 268.4,197.6 269.4,197.7 270.4,197.8 271.4,197.9 272.4,198 273.4,198.1 274.4,198.2 275.4,198.3 276.4,198.4 277.4,198.5 278.4,198.6 279.4,198.7 280.4,198.8 281.4,199 282.4,199.2 283.4,199.3 284.4,199.5 285.4,199.7 286.3,199.8 287.3,200 288.3,200.2 289.3,200.3 290.3,200.5 291.3,200.7 292.3,200.8 293.3,201 294.3,201.2 295.3,201.3 296.3,201.5 297.3,201.6 298.3,201.8 299.3,202 300.3,202.2 301.3,202.4 302.3,202.6 303.3,202.8 304.3,203 305.3,203.2 306.3,203.4 307.3,203.6 308.3,203.8 309.3,204 310.3,204.2 311.3,204.4 312.3,204.6 313.3,204.8 314.3,205 315.3,205.2 316.3,205.5 317.3,205.7 318.3,205.9 319.3,206.1 320.3,206.3 321.3,206.6 322.3,206.9 323.3,207.1 324.3,207.4 325.3,207.7 326.3,208 327.3,208.3 328.3,208.6 329.3,208.8 330.3,209.1 331.3,209.4 332.3,209.7 333.3,210 334.3,210.3 335.3,210.5 336.3,210.9 337.3,211.2 338.3,211.5 339.3,211.8 340.3,212.1 341.3,212.4 342.3,212.7 343.3,213 344.3,213.3 345.3,213.6 346.3,213.9 347.3,214.3 348.3,214.5 349.3,214.7 350.3,214.8 351.3,215 352.3,215.1 353.3,215.3 354.3,215.5 355.3,215.6 356.3,215.8 357.3,215.9 358.3,216.1 359.3,216.2 360.3,216.4 361.3,216.5 362.3,216.7 363.3,216.9 364.3,217" fill="none" stroke="#d0782c" stroke-width="0.6" stroke-linejoin="round"/>
<path d="M209.9,190.3 211,191.7 212.1,190.1 213.2,190.2 214.3,191.9 215.4,190.6 216.5,189.6 217.6,191.2 218.7,192 219.8,191.7 220.9,191.1 222,191 223.1,190.6 224.2,190.2 225.3,189.5 226.4,189.9 227.5,189.9 228.6,190.6 229.7,192 230.8,191.8 231.9,190.7 233,191 234.1,191.5 235.2,191.5 236.3,192 237.4,190.8 238.5,191.6 239.6,191.6 240.7,190 241.8,191.4 242.9,190.5 243.9,191.7 245,190.4 246.1,190.6 247.2,190.8 248.3,190.8 249.4,188.9 250.5,188.9 251.6,189.1 252.7,189.1 253.8,190.1 254.9,187.3 256,187.9 257.1,188.9 258.2,186 259.3,187 260.4,187.4 261.5,186.6 262.6,185.2 263.7,184.7 264.8,184.5 265.9,185.3 267,185.1 268.1,183.6 269.2,184.2 270.3,182.6 271.4,183.4 272.5,180.2 273.6,182.2 274.7,181.1 275.8,179.2 276.9,179.4 278,178.9 279.1,180.6 280.2,178.9 281.3,179.9 282.4,181.3 283.5,181 284.6,181.3 285.7,180.9 286.8,182 287.9,182.2 289,183.8 290.1,182.9 291.2,186 292.3,186.8 293.4,187.1 294.5,186.3 295.6,189.7 296.7,188.5 297.8,189.2 298.9,189.5 300,190.9 301.1,193 302.2,193.1 303.3,193.6 304.4,191.6 305.5,193.7 306.6,191.4 307.7,193.3 308.8,193.1 309.9,193.3 311,191.4 312,193.4 313.1,192.8 314.2,192.9 315.3,190.7 316.4,190.6 317.5,190.7 318.6,191.1 319.7,191.6 320.8,191.6 321.9,190.2 323,188.3 324.1,188.7 325.2,189 326.3,186.1 327.4,186 328.5,185.7 329.6,186.4 330.7,184.8 331.8,183.2 332.9,179.9 334,179.4 335.1,177.3 336.2,173.9 337.3,171.6 338.4,169.8 339.5,169.6 340.6,166.6 341.7,168.7 342.8,169.2 343.9,170.7 345,172.8" fill="none" stroke="#444" stroke-width="0.6" stroke-linejoin="round"/>
<path d="M206.4,192.6 207.4,192.5 208.4,192.5 209.4,192.5 210.4,192.4 211.4,192.4 212.4,192.3 213.4,192.3 214.4,192.3 215.4,192.3 216.4,192.2 217.4,192.2 218.4,192.2 219.4,192.2 220.4,192.2 221.4,192.2 222.4,192.2 223.4,192.2 224.4,192.2 225.4,192.2 226.4,192.2 227.4,192.2 228.4,192.2 229.4,192.2 230.4,192.3 231.4,192.3 232.4,192.3 233.4,192.3 234.4,192.3 235.4,192.3 236.4,192.3 237.4,192.3 238.4,192.3 239.4,192.3 240.4,192.3 241.4,192.3 242.4,192.2 243.4,192.1 244.4,192.1 245.4,191.9 246.4,191.8 247.4,191.7 248.4,191.5 249.4,191.4 250.4,191.2 251.4,191.1 252.4,190.8 253.4,190.6 254.4,190.3 255.4,190 256.4,189.7 257.4,189.3 258.4,189 259.4,188.6 260.4,188.3 261.4,187.9 262.4,187.5 263.4,187.1 264.4,186.6 265.4,186.2 266.4,185.8 267.4,185.3 268.4,184.9 269.4,184.5 270.4,184.1 271.4,183.6 272.4,183.2 273.4,182.8 274.4,182.5 275.4,182.2 276.4,182 277.4,181.7 278.4,181.5 279.4,181.4 280.4,181.4 281.4,181.5 282.4,181.6 283.4,181.9 284.4,182.1 285.4,182.4 286.3,182.9 287.3,183.6 288.3,184.3 289.3,185.1 290.3,185.9 291.3,186.6 292.3,187.4 293.3,188.2 294.3,189 295.3,189.8 296.3,190.6 297.3,191.4 298.3,192.1 299.3,192.7 300.3,193.1 301.3,193.4 302.3,193.7 303.3,193.9 304.3,194 305.3,194 306.3,194 307.3,193.9 308.3,193.9 309.3,193.8 310.3,193.8 311.3,193.7 312.3,193.7 313.3,193.6 314.3,193.5 315.3,193.4 316.3,193.2 317.3,193 318.3,192.7 319.3,192.4 320.3,192.1 321.3,191.6 322.3,191.1 323.3,190.5 324.3,190 325.3,189.4 326.3,188.9 327.3,188.4 328.3,187.8 329.3,187 330.3,186 331.3,184.8 332.3,183.1 333.3,181.2 334.3,179.1 335.3,177.2 336.3,175.2 337.3,173.2 338.3,171.8 339.3,170.5 340.3,169.5 341.3,169.2 342.3,169.8 343.3,171 344.3,172.4 345.3,173.9 346.3,175.6 347.3,177.6 348.3,179.8 349.3,182 350.3,184.3 351.3,186.7 352.3,189.1 353.3,191.7 354.3,194.2 355.3,196.8 356.3,199.4 357.3,202.1 358.3,204.7 359.3,207.2 360.3,209.4 361.3,211.5 362.3,213.4 363.3,215.2 364.3,216.8" fill="none" stroke="#ff3434" stroke-width="1.0" stroke-linejoin="round"/>
<path d="M318,270 319,270.2 320,270.3 321,270.5 321.9,270.6 322.9,270.5 323.9,270.4 324.9,270 325.9,269.5 326.9,268.7 327.9,267.5 328.8,265.9 329.8,264 330.8,261.7 331.8,258.9 332.8,255.9 333.8,252.7 334.7,249.4 335.7,246.2 336.7,243.3 337.7,241 338.7,239.3 339.7,238.5 340.7,238.5 341.6,239 342.6,239.7 343.6,240.7 344.6,241.9 345.6,243.3 346.6,244.9 347.6,246.6 348.5,248.5 349.5,250.5 350.5,252.6 351.5,254.7 352.5,256.8 353.5,258.9 354.4,260.9 355.4,262.9 356.4,264.8 357.4,266.6 358.4,268.4 359.4,270 360.4,271.5 361.3,272.9 362.3,274.2 363.3,275.4 364.3,276.5 364.3,281.7 363.3,281.5 362.3,281.3 361.3,281.1 360.4,281 359.4,280.8 358.4,280.6 357.4,280.4 356.4,280.2 355.4,280 354.4,279.8 353.5,279.7 352.5,279.5 351.5,279.3 350.5,279.1 349.5,278.9 348.5,278.7 347.6,278.5 346.6,278.4 345.6,278.2 344.6,278 343.6,277.8 342.6,277.6 341.6,277.4 340.7,277.2 339.7,277.1 338.7,276.9 337.7,276.7 336.7,276.5 335.7,276.3 334.7,276.1 333.8,275.9 332.8,275.8 331.8,275.6 330.8,275.4 329.8,275.2 328.8,275 327.9,274.8 326.9,274.6 325.9,274.5 324.9,274.3 323.9,274.1 322.9,273.9 321.9,273.7 321,273.5 320,273.3 319,273.2 318,273Z" fill="#12e4ee"/>
<path d="M206.4,252 207.4,252.1 208.4,252.3 209.4,252.3 210.4,252.4 211.4,252.4 212.4,252.5 213.4,252.5 214.4,252.6 215.4,252.6 216.4,252.6 217.4,252.7 218.4,252.7 219.4,252.8 220.4,252.8 221.4,252.9 222.4,252.9 223.4,253 224.4,253 225.4,253.1 226.4,253.1 227.4,253.2 228.4,253.2 229.4,253.3 230.4,253.3 231.4,253.4 232.4,253.4 233.4,253.5 234.4,253.5 235.4,253.6 236.4,253.6 237.4,253.7 238.4,253.7 239.4,253.8 240.4,253.8 241.4,253.9 242.4,253.9 243.4,254 244.4,254 245.4,254.1 246.4,254.1 247.4,254.2 248.4,254.2 249.4,254.3 250.4,254.4 251.4,254.4 252.4,254.5 253.4,254.5 254.4,254.6 255.4,254.7 256.4,254.7 257.4,254.8 258.4,254.9 259.4,254.9 260.4,255 261.4,255.1 262.4,255.2 263.4,255.2 264.4,255.3 265.4,255.4 266.4,255.5 267.4,255.6 268.4,255.7 269.4,255.8 270.4,255.9 271.4,256 272.4,256.1 273.4,256.2 274.4,256.3 275.4,256.5 276.4,256.6 277.4,256.7 278.4,256.8 279.4,257 280.4,257.1 281.4,257.2 282.4,257.3 283.4,257.5 284.4,257.6 285.4,257.7 286.3,257.8 287.3,258 288.3,258.1 289.3,258.2 290.3,258.3 291.3,258.5 292.3,258.7 293.3,258.8 294.3,259 295.3,259.2 296.3,259.3 297.3,259.4 298.3,259.5 299.3,259.6 300.3,259.6 301.3,259.6 302.3,259.6 303.3,259.6 304.3,259.5 305.3,259.5 306.3,259.4 307.3,259.2 308.3,259 309.3,258.8 310.3,258.5 311.3,258.2 312.3,257.8 313.3,257.3 314.3,256.9 315.3,256.3 316.3,255.6 317.3,254.9 318.3,254.1 319.3,253.3 320.3,252.6 321.3,251.8 322.3,251 323.3,250.3 324.3,250 325.3,250.1 326.3,250.3 327.3,250.8 328.3,252.4 329.3,254.5 330.3,256.3 331.3,258.1 332.3,259.8 333.3,261.4 334.3,263.1 335.3,264.7 336.3,266.3 337.3,268 338.3,269.5 339.3,270.9 340.3,272.2 341.3,273.3 342.3,274.4 343.3,275.3 344.3,276.1 345.3,276.8 346.3,277.4 347.3,277.9 348.3,278.3 349.3,278.8 350.3,279.1 351.3,279.2 352.3,279.4 353.3,279.6 354.3,279.8 355.3,280 356.3,280.2 357.3,280.4 358.3,280.6 359.3,280.8 360.3,280.9 361.3,281.1 362.3,281.3 363.3,281.5 364.3,281.7 364.3,281.7 363.3,281.5 362.3,281.3 361.3,281.1 360.3,280.9 359.3,280.8 358.3,280.6 357.3,280.4 356.3,280.2 355.3,280 354.3,279.8 353.3,279.6 352.3,279.4 351.3,279.2 350.3,279.1 349.3,278.9 348.3,278.7 347.3,278.5 346.3,278.3 345.3,278.1 344.3,277.9 343.3,277.7 342.3,277.6 341.3,277.4 340.3,277.2 339.3,277 338.3,276.8 337.3,276.6 336.3,276.4 335.3,276.2 334.3,276 333.3,275.9 332.3,275.7 331.3,275.5 330.3,275.3 329.3,275.1 328.3,274.9 327.3,274.7 326.3,274.5 325.3,274.4 324.3,274.2 323.3,274 322.3,273.8 321.3,273.6 320.3,273.4 319.3,273.2 318.3,273 317.3,272.8 316.3,272.7 315.3,272.5 314.3,272.3 313.3,272.1 312.3,271.9 311.3,271.7 310.3,271.5 309.3,271.3 308.3,271.2 307.3,271 306.3,270.8 305.3,270.6 304.3,270.4 303.3,270.2 302.3,270 301.3,269.8 300.3,269.6 299.3,269.5 298.3,269.3 297.3,269.1 296.3,268.9 295.3,268.7 294.3,268.5 293.3,268.3 292.3,268.1 291.3,268 290.3,267.8 289.3,267.6 288.3,267.4 287.3,267.2 286.3,267 285.4,266.8 284.4,266.6 283.4,266.4 282.4,266.3 281.4,266.1 280.4,265.9 279.4,265.7 278.4,265.5 277.4,265.3 276.4,265.1 275.4,264.9 274.4,264.8 273.4,264.6 272.4,264.4 271.4,264.2 270.4,264 269.4,263.8 268.4,263.6 267.4,263.4 266.4,263.2 265.4,263.1 264.4,262.9 263.4,262.7 262.4,262.5 261.4,262.3 260.4,262.1 259.4,261.9 258.4,261.7 257.4,261.6 256.4,261.4 255.4,261.2 254.4,261 253.4,260.8 252.4,260.6 251.4,260.4 250.4,260.2 249.4,260 248.4,259.9 247.4,259.7 246.4,259.5 245.4,259.3 244.4,259.1 243.4,258.9 242.4,258.7 241.4,258.5 240.4,258.4 239.4,258.2 238.4,258 237.4,257.8 236.4,257.6 235.4,257.4 234.4,257.2 233.4,257 232.4,256.8 231.4,256.7 230.4,256.5 229.4,256.3 228.4,256.1 227.4,255.9 226.4,255.7 225.4,255.5 224.4,255.3 223.4,255.2 222.4,255 221.4,254.8 220.4,254.6 219.4,254.4 218.4,254.2 217.4,254 216.4,253.8 215.4,253.6 214.4,253.5 213.4,253.3 212.4,253.1 211.4,252.9 210.4,252.7 209.4,252.5 208.4,252.3 207.4,252.1 206.4,252Z" fill="#0be856"/>
<path d="M250,253.6 251,253.4 252,253.1 253,252.9 254,252.6 255,252.4 256,252.1 257,251.8 258,251.5 259,251.2 260,250.8 261,250.5 262,250.1 263,249.7 264,249.3 265,249 266,248.6 267,248.2 268,247.8 269,247.5 270,247.1 271,246.7 272,246.3 273,246 274,245.7 275,245.3 276,245 277,244.7 278,244.4 279,244.2 280,244.2 281,244.4 282,244.8 283,245.4 284,245.9 285,246.7 286,247.6 287,248.7 288,249.8 289,250.8 290,251.6 291,252.5 292,253.3 293,254.1 294,254.8 295,255.6 296,256.4 297,257.1 298,257.8 299,258.5 300,259.2 301,259.6 302,259.6 303,259.6 304,259.5 305,259.5 306,259.4 306,259.4 305,259.5 304,259.5 303,259.6 302,259.6 301,259.6 300,259.6 299,259.6 298,259.5 297,259.4 296,259.3 295,259.1 294,258.9 293,258.8 292,258.6 291,258.4 290,258.3 289,258.2 288,258.1 287,257.9 286,257.8 285,257.7 284,257.5 283,257.4 282,257.3 281,257.2 280,257 279,256.9 278,256.8 277,256.7 276,256.5 275,256.4 274,256.3 273,256.2 272,256.1 271,256 270,255.8 269,255.7 268,255.6 267,255.5 266,255.5 265,255.4 264,255.3 263,255.2 262,255.1 261,255 260,255 259,254.9 258,254.8 257,254.8 256,254.7 255,254.6 254,254.6 253,254.5 252,254.5 251,254.4 250,254.3Z" fill="#b3aef0"/>
<path d="M206.4,251.9 207.4,252.1 208.4,252.2 209.4,252.3 210.4,252.5 211.4,252.6 212.4,252.8 213.4,252.9 214.4,253 215.4,253.2 216.4,253.3 217.4,253.5 218.4,253.6 219.4,253.7 220.4,253.9 221.4,254 222.4,254.1 223.4,254.3 224.4,254.4 225.4,254.6 226.4,254.7 227.4,254.8 228.4,255 229.4,255.1 230.4,255.2 231.4,255.4 232.4,255.5 233.4,255.6 234.4,255.8 235.4,255.9 236.4,256 237.4,256.1 238.4,256.3 239.4,256.4 240.4,256.5 241.4,256.7 242.4,256.8 243.4,256.9 244.4,257 245.4,257.2 246.4,257.3 247.4,257.4 248.4,257.6 249.4,257.7 250.4,257.8 251.4,258 252.4,258.1 253.4,258.3 254.4,258.4 255.4,258.6 256.4,258.7 257.4,258.9 258.4,259 259.4,259.2 260.4,259.3 261.4,259.5 262.4,259.6 263.4,259.7 264.4,259.9 265.4,260 266.4,260.2 267.4,260.3 268.4,260.5 269.4,260.6 270.4,260.8 271.4,260.9 272.4,261.1 273.4,261.2 274.4,261.4 275.4,261.5 276.4,261.7 277.4,261.8 278.4,262 279.4,262.1 280.4,262.3 281.4,262.5 282.4,262.6 283.4,262.8 284.4,263 285.4,263.2 286.3,263.3 287.3,263.5 288.3,263.7 289.3,263.9 290.3,264.1 291.3,264.2 292.3,264.4 293.3,264.6 294.3,264.8 295.3,265 296.3,265.1 297.3,265.3 298.3,265.5 299.3,265.7 300.3,265.9 301.3,266.1 302.3,266.3 303.3,266.6 304.3,266.8 305.3,267.1 306.3,267.3 307.3,267.5 308.3,267.8 309.3,268 310.3,268.2 311.3,268.5 312.3,268.7 313.3,269 314.3,269.2 315.3,269.4 316.3,269.7 317.3,269.9 318.3,270.2 319.3,270.4 320.3,270.6 321.3,270.9 322.3,271.2 323.3,271.4 324.3,271.7 325.3,272 326.3,272.2 327.3,272.5 328.3,272.8 329.3,273.1 330.3,273.3 331.3,273.6 332.3,273.9 333.3,274.1 334.3,274.4 335.3,274.7 336.3,274.9 337.3,275.2 338.3,275.5 339.3,275.7 340.3,276 341.3,276.3 342.3,276.6 343.3,276.9 344.3,277.2 345.3,277.4 346.3,277.7 347.3,278 348.3,278.3 349.3,278.6 350.3,278.9 351.3,279.2 352.3,279.4 353.3,279.6 354.3,279.8 355.3,280 356.3,280.2 357.3,280.4 358.3,280.6 359.3,280.8 360.3,280.9 361.3,281.1 362.3,281.3 363.3,281.5 364.3,281.7" fill="none" stroke="#d0782c" stroke-width="0.6" stroke-linejoin="round"/>
<path d="M209.9,249.7 211,251.1 212.1,250.3 213.2,249.5 214.3,251.6 215.4,251.7 216.5,250.3 217.6,249.4 218.7,249.6 219.8,249.9 220.9,250.4 222,251.2 223.1,249.5 224.2,251.1 225.3,252.1 226.4,250.5 227.5,250.7 228.6,251.4 229.7,251.3 230.8,249.7 231.9,250.5 233,251.7 234.1,251.2 235.2,252.1 236.3,251.7 237.4,250.4 238.5,251.6 239.6,250.5 240.7,249.9 241.8,251.3 242.9,249.2 243.9,249.7 245,249.8 246.1,249.1 247.2,249.4 248.3,249 249.4,249.7 250.5,248.9 251.6,249.1 252.7,249.3 253.8,247.9 254.9,247.7 256,247.6 257.1,248.8 258.2,249.8 259.3,248.2 260.4,248.8 261.5,248.1 262.6,246.7 263.7,248.4 264.8,247.1 265.9,245.3 267,247 268.1,245.1 269.2,244.5 270.3,243.5 271.4,245 272.5,242.8 273.6,242.3 274.7,242.4 275.8,243.5 276.9,242.4 278,243.1 279.1,240.6 280.2,241.8 281.3,240.8 282.4,243.8 283.5,244.9 284.6,245.1 285.7,246.6 286.8,247.6 287.9,247.5 289,249.7 290.1,248.7 291.2,251.6 292.3,252.5 293.4,250.9 294.5,252.9 295.6,253.2 296.7,255 297.8,253.9 298.9,254.6 300,256.4 301.1,255.8 302.2,255.7 303.3,257.2 304.4,256.2 305.5,258.2 306.6,257.9 307.7,256.5 308.8,256.9 309.9,257.3 311,256.2 312,256.5 313.1,255.5 314.2,254.7 315.3,253.3 316.4,253 317.5,252.7 318.6,253.4 319.7,250.8 320.8,251.2 321.9,248.1 323,248.4 324.1,248 325.2,247.4 326.3,246.8 327.4,246.3 328.5,244.7 329.6,244.2 330.7,242.3 331.8,242 332.9,240.9 334,239.5 335.1,235.6 336.2,236.3 337.3,233.7 338.4,234.6 339.5,233.8 340.6,233.7 341.7,233.2 342.8,234.2 343.9,237 345,238.4" fill="none" stroke="#444" stroke-width="0.6" stroke-linejoin="round"/>
<path d="M206.4,251.9 207.4,252 208.4,252 209.4,252 210.4,252.1 211.4,252.1 212.4,252.1 213.4,252.2 214.4,252.2 215.4,252.2 216.4,252.2 217.4,252.3 218.4,252.3 219.4,252.3 220.4,252.3 221.4,252.3 222.4,252.3 223.4,252.3 224.4,252.4 225.4,252.4 226.4,252.4 227.4,252.4 228.4,252.4 229.4,252.4 230.4,252.4 231.4,252.4 232.4,252.4 233.4,252.4 234.4,252.3 235.4,252.3 236.4,252.2 237.4,252.2 238.4,252.1 239.4,252.1 240.4,252 241.4,252 242.4,251.9 243.4,251.8 244.4,251.8 245.4,251.7 246.4,251.6 247.4,251.5 248.4,251.5 249.4,251.4 250.4,251.3 251.4,251.1 252.4,251 253.4,250.9 254.4,250.7 255.4,250.6 256.4,250.4 257.4,250.2 258.4,250.1 259.4,249.8 260.4,249.6 261.4,249.3 262.4,249 263.4,248.7 264.4,248.4 265.4,248.1 266.4,247.7 267.4,247.4 268.4,247.1 269.4,246.7 270.4,246.4 271.4,246 272.4,245.6 273.4,245.3 274.4,244.9 275.4,244.6 276.4,244.2 277.4,243.8 278.4,243.5 279.4,243.3 280.4,243.4 281.4,243.7 282.4,244.3 283.4,245 284.4,245.7 285.4,246.6 286.3,247.7 287.3,248.8 288.3,249.8 289.3,250.6 290.3,251.4 291.3,252.1 292.3,252.8 293.3,253.5 294.3,254.1 295.3,254.7 296.3,255.3 297.3,255.9 298.3,256.4 299.3,256.9 300.3,257.3 301.3,257.7 302.3,258.1 303.3,258.5 304.3,258.7 305.3,258.7 306.3,258.6 307.3,258.5 308.3,258.4 309.3,258.2 310.3,258 311.3,257.8 312.3,257.5 313.3,257.1 314.3,256.6 315.3,256.1 316.3,255.5 317.3,254.8 318.3,254 319.3,253.1 320.3,252.2 321.3,251 322.3,249.8 323.3,249 324.3,248.4 325.3,247.9 326.3,247.6 327.3,247.1 328.3,246.6 329.3,245.8 330.3,244.9 331.3,243.8 332.3,242.6 333.3,241.1 334.3,239.5 335.3,238.1 336.3,237 337.3,236 338.3,235.2 339.3,234.6 340.3,234.5 341.3,234.8 342.3,235.4 343.3,236.8 344.3,238.7 345.3,240.5 346.3,242.3 347.3,244.2 348.3,246.1 349.3,248.1 350.3,250.3 351.3,252.6 352.3,255.1 353.3,257.6 354.3,260.2 355.3,262.7 356.3,265.2 357.3,267.9 358.3,270.4 359.3,272.7 360.3,274.8 361.3,276.6 362.3,278.3 363.3,279.9 364.3,281.2" fill="none" stroke="#ff3434" stroke-width="1.0" stroke-linejoin="round"/>
<rect x="205.9" y="160.7" width="158.9" height="130.8" fill="none" stroke="#333" stroke-width="1.1"/>
<path d="M205.4,291.5 H365.3" stroke="#111" stroke-width="1.2"/>
<path d="M208.7,291.5v2.3M230.6,291.5v2.3M252.6,291.5v2.3M274.5,291.5v2.3M296.5,291.5v2.3M318.4,291.5v2.3M340.3,291.5v2.3M362.3,291.5v2.3M219.7,291.5v1.5M241.6,291.5v1.5M263.6,291.5v1.5M285.5,291.5v1.5M307.4,291.5v1.5M329.4,291.5v1.5M351.3,291.5v1.5" stroke="#111" stroke-width="0.8"/>
<text x="205.2" y="300.4" font-size="6.0" textLength="6.9" lengthAdjust="spacingAndGlyphs" fill="#111" stroke="#111" stroke-width="0.08">740</text>
<text x="227.2" y="300.4" font-size="6.0" textLength="6.9" lengthAdjust="spacingAndGlyphs" fill="#111" stroke="#111" stroke-width="0.08">735</text>
<text x="249.1" y="300.4" font-size="6.0" textLength="6.9" lengthAdjust="spacingAndGlyphs" fill="#111" stroke="#111" stroke-width="0.08">730</text>
<text x="271.1" y="300.4" font-size="6.0" textLength="6.9" lengthAdjust="spacingAndGlyphs" fill="#111" stroke="#111" stroke-width="0.08">725</text>
<text x="293" y="300.4" font-size="6.0" textLength="6.9" lengthAdjust="spacingAndGlyphs" fill="#111" stroke="#111" stroke-width="0.08">720</text>
<text x="314.9" y="300.4" font-size="6.0" textLength="6.9" lengthAdjust="spacingAndGlyphs" fill="#111" stroke="#111" stroke-width="0.08">715</text>
<text x="336.9" y="300.4" font-size="6.0" textLength="6.9" lengthAdjust="spacingAndGlyphs" fill="#111" stroke="#111" stroke-width="0.08">710</text>
<text x="358.8" y="300.4" font-size="6.0" textLength="6.9" lengthAdjust="spacingAndGlyphs" fill="#111" stroke="#111" stroke-width="0.08">705</text>
<text x="285" y="310.2" font-size="5.7" font-weight="bold" text-anchor="middle" fill="#111" stroke="#111" stroke-width="0.08">Binding energy (eV)</text>
<text x="-20.8" y="0" font-size="6.5" font-weight="bold" textLength="41.6" lengthAdjust="spacingAndGlyphs" fill="#111" stroke="#111" stroke-width="0.18" transform="translate(199.9,227.2) rotate(-90)">Intensity (a.u.)</text>
<text x="186.5" y="173.1" font-size="15.6" font-weight="bold" fill="#000" stroke="#000" stroke-width="0.18">(e)</text>
<text x="345.8" y="173.6" font-size="8.2" font-weight="bold" textLength="17" lengthAdjust="spacingAndGlyphs" fill="#111" stroke="#111" stroke-width="0.18">Fe 2p</text>
<text x="210.3" y="182.6" font-size="7.0" textLength="41.3" lengthAdjust="spacingAndGlyphs" fill="#2a2a2a" stroke="#2a2a2a" stroke-width="0.1">NM88B@MXene</text>
<text x="212.4" y="243.5" font-size="7.0" textLength="18.5" lengthAdjust="spacingAndGlyphs" fill="#2a2a2a" stroke="#2a2a2a" stroke-width="0.1">NM88B</text>
<text x="265" y="169.5" font-size="6.4" font-weight="bold" textLength="22" lengthAdjust="spacingAndGlyphs" fill="#111" stroke="#111" stroke-width="0.22">723.01 eV</text>
<path d="M277.9,171.6 L272.9,181" stroke="#1f6fc6" stroke-width="1.0"/>
<path d="M271.7,183.3 L271.7,179.9 L274.5,181.4Z" fill="#1f6fc6"/>
<text x="299.4" y="181" font-size="6.4" font-weight="bold" textLength="22" lengthAdjust="spacingAndGlyphs" fill="#111" stroke="#111" stroke-width="0.22">714.47 eV</text>
<path d="M312.8,182.4 L315.7,189" stroke="#1f6fc6" stroke-width="1.0"/>
<path d="M316.8,191.4 L314.1,189.3 L317,188Z" fill="#1f6fc6"/>
<text x="341.8" y="186.8" font-size="6.4" font-weight="bold" textLength="22" lengthAdjust="spacingAndGlyphs" fill="#111" stroke="#111" stroke-width="0.22">709.74 eV</text>
<path d="M353,187.4 L349.7,192.9" stroke="#1f6fc6" stroke-width="1.0"/>
<path d="M348.4,195.1 L348.6,191.7 L351.3,193.3Z" fill="#1f6fc6"/>
<text x="258.6" y="230.9" font-size="6.4" font-weight="bold" textLength="22" lengthAdjust="spacingAndGlyphs" fill="#111" stroke="#111" stroke-width="0.22">723.24 eV</text>
<path d="M271.7,233.3 L274.1,241.7" stroke="#1f6fc6" stroke-width="1.0"/>
<path d="M274.8,244.2 L272.4,241.8 L275.5,240.9Z" fill="#1f6fc6"/>
<text x="299.8" y="241.1" font-size="6.4" font-weight="bold" textLength="22" lengthAdjust="spacingAndGlyphs" fill="#111" stroke="#111" stroke-width="0.22">714.08 eV</text>
<path d="M313.8,243 L313.8,251.8" stroke="#1f6fc6" stroke-width="1.0"/>
<path d="M313.8,254.4 L312.2,251.4 L315.4,251.4Z" fill="#1f6fc6"/>
<text x="341.8" y="234" font-size="6.4" font-weight="bold" textLength="22" lengthAdjust="spacingAndGlyphs" fill="#111" stroke="#111" stroke-width="0.22">709.68 eV</text>
<path d="M350.9,234.3 L348.6,241.7" stroke="#1f6fc6" stroke-width="1.0"/>
<path d="M347.8,244.2 L347.2,240.9 L350.2,241.8Z" fill="#1f6fc6"/>
<path d="M425,210.5 426,210.5 427,210.5 428,210.5 429,210.4 430,210.2 431,210 432,209.7 433,209.2 434,208.5 435,207.7 436,206.7 437,205.5 438,204.2 439,202.7 440,201.2 441,199.7 442,198.3 443,197.1 444,196.1 445,195.6 446,195.4 447,195.7 448,196.3 449,197.3 450,198.6 451,200.1 452,201.7 453,203.3 454,204.9 455,206.4 456,207.7 457,208.8 458,209.8 459,210.5 460,211.1 461,211.6 462,212 463,212.3 464,212.5 465,212.6 465,212.8 425,210.5Z" fill="#f48ed6"/>
<path d="M450,211.9 451,212 452,212 453,212 454,212 455,211.9 456,211.9 457,211.7 458,211.5 459,211.3 460,211.1 461,210.8 462,210.6 463,210.4 464,210.3 465,210.2 466,210.3 467,210.5 468,210.7 469,211 470,211.4 471,211.8 472,212.1 473,212.4 474,212.7 475,213 476,213.2 477,213.3 478,213.4 479,213.5 480,213.6 481,213.7 482,213.8 482,213.8 450,212Z" fill="#0be856"/>
<path d="M470,212.9 471,212.8 472,212.5 473,211.9 474,210.8 475,209 476,206.1 477,202 478,196.7 479,190.2 480,183.1 481,176.1 482,170.1 483,166.1 484,164.7 485,166.2 486,170.3 487,176.4 488,183.6 489,190.8 490,197.4 491,202.8 492,207 493,210 494,211.9 495,213.2 496,213.9 497,214.3 498,214.5 499,214.7 500,214.8 500,214.8 470,213.1Z" fill="#12e4ee"/>
<path d="M490,214.2 491,214.3 492,214.3 493,214.2 494,214 495,213.7 496,213.1 497,212.6 498,212.2 499,212.2 500,212.6 501,213.3 502,214 503,214.5 504,214.8 505,215 506,215.1 507,215.2 508,215.3 508,215.3 490,214.2Z" fill="#a6a2ec"/>
<path d="M388,206.3 389.5,207.5 391,207.5 392.5,207.2 394,206.8 395.5,208 397,208.1 398.5,207.6 400,207.7 401.5,207.3 403,206.9 404.5,207.7 406,208.2 407.5,207.3 409,208.8 410.5,207.8 412,207.8 413.5,207.6 415,209.6 416.5,209.1 418,209.5 419.5,209 421,208 422.5,208.6 424,209 425.5,208.3 427,210 428.4,208.8 429.9,208.1 431.4,209.1 432.9,207.1 434.4,207.9 435.9,206.1 437.4,204.4 438.9,202.1 440.4,199.9 441.9,197.5 443.4,195.7 444.9,195.3 446.4,194.7 447.9,195.9 449.4,197 450.9,199.7 452.4,202 453.9,204.2 455.4,206.2 456.9,207.6 458.4,208.2 459.9,207.5 461.4,208.4 462.9,209.2 464.4,208 465.9,209.6 467.4,209.9 468.9,209.3 470.4,209.7 471.9,210 473.4,209.2 474.9,208.4 476.4,203.8 477.9,196.3 479.4,186.5 480.9,176.4 482.4,168.1 483.9,164.1 485.4,166.9 486.9,175 488.4,185.9 489.9,195.7 491.4,204 492.9,208.9 494.4,210.8 495.9,210.4 497.4,210.1 498.9,210.4 500.4,212.3 501.9,212.2 503.4,213.4 504.9,213.2 506.3,213 507.8,213 509.3,214.6 510.8,214.6 512.3,213.9 513.8,214.6 515.3,214.6 516.8,215.2 518.3,215.4 519.8,214.4 521.3,215.6 522.8,215.6 524.3,215 525.8,215.6 527.3,214.9 528.8,214.8 530.3,214.6 531.8,216 533.3,214.6 534.8,214.5 536.3,216.1 537.8,216.1 539.3,215.6 540.8,216.4 542.3,214.9 543.8,215.4 545.3,215.6" fill="none" stroke="#1a1a1a" stroke-width="0.75" stroke-linejoin="round"/>
<path d="M388,208.4 388.5,208.4 389,208.5 389.5,208.5 390,208.5 390.5,208.6 391,208.6 391.5,208.6 392,208.6 392.5,208.7 393,208.7 393.5,208.7 394,208.8 394.5,208.8 395,208.8 395.5,208.8 396,208.9 396.5,208.9 397,208.9 397.5,209 398,209 398.5,209 399,209 399.5,209.1 400,209.1 400.5,209.1 401,209.2 401.5,209.2 402,209.2 402.5,209.2 403,209.3 403.5,209.3 404,209.3 404.5,209.4 405,209.4 405.5,209.4 406,209.4 406.5,209.5 407,209.5 407.5,209.5 408,209.6 408.5,209.6 409,209.6 409.5,209.6 410,209.7 410.5,209.7 411,209.7 411.5,209.8 412,209.8 412.5,209.8 413,209.8 413.5,209.9 414,209.9 414.5,209.9 415,210 415.5,210 416,210 416.5,210 417,210.1 417.5,210.1 418,210.1 418.5,210.2 419,210.2 419.5,210.2 420,210.2 420.5,210.3 421,210.3 421.5,210.3 422,210.3 422.5,210.4 423,210.4 423.5,210.4 424,210.4 424.5,210.5 425,210.5 425.5,210.5 426,210.5 426.5,210.5 427,210.5 427.4,210.5 427.9,210.5 428.4,210.4 428.9,210.4 429.4,210.3 429.9,210.2 430.4,210.1 430.9,210 431.4,209.9 431.9,209.7 432.4,209.5 432.9,209.2 433.4,208.9 433.9,208.6 434.4,208.2 434.9,207.8 435.4,207.3 435.9,206.8 436.4,206.2 436.9,205.6 437.4,205 437.9,204.3 438.4,203.5 438.9,202.8 439.4,202 439.9,201.3 440.4,200.5 440.9,199.8 441.4,199 441.9,198.4 442.4,197.7 442.9,197.1 443.4,196.6 443.9,196.2 444.4,195.9 444.9,195.6 445.4,195.5 445.9,195.4 446.4,195.5 446.9,195.6 447.4,195.9 447.9,196.3 448.4,196.7 448.9,197.2 449.4,197.8 449.9,198.5 450.4,199.2 450.9,200 451.4,200.7 451.9,201.5 452.4,202.3 452.9,203.1 453.4,203.8 453.9,204.6 454.4,205.3 454.9,206 455.4,206.6 455.9,207.1 456.4,207.6 456.9,208.1 457.4,208.5 457.9,208.8 458.4,209.1 458.9,209.3 459.4,209.5 459.9,209.7 460.4,209.8 460.9,209.8 461.4,209.9 461.9,209.9 462.4,209.9 462.9,209.9 463.4,210 463.9,210 464.4,210 464.9,210 465.4,210.1 465.9,210.2 466.4,210.2 466.9,210.4 467.4,210.5 467.9,210.6 468.4,210.8 468.9,210.9 469.4,211.1 469.9,211.2 470.4,211.3 470.9,211.4 471.4,211.5 471.9,211.5 472.4,211.4 472.9,211.2 473.4,210.8 473.9,210.3 474.4,209.7 474.9,208.8 475.4,207.6 475.9,206.2 476.4,204.4 476.9,202.4 477.4,200 477.9,197.2 478.4,194.2 478.9,190.9 479.4,187.5 479.9,183.9 480.4,180.3 480.9,176.8 481.4,173.6 481.9,170.7 482.4,168.3 482.9,166.4 483.4,165.2 483.9,164.7 484.4,164.9 484.9,165.9 485.4,167.5 485.9,169.7 486.4,172.4 486.9,175.6 487.4,179 487.9,182.6 488.4,186.3 488.9,189.9 489.4,193.3 489.9,196.6 490.4,199.5 490.9,202.2 491.4,204.5 491.9,206.5 492.4,208.1 492.9,209.5 493.4,210.6 493.9,211.4 494.4,211.9 494.9,212.3 495.4,212.4 495.9,212.5 496.4,212.4 496.9,212.3 497.4,212.1 497.9,212 498.4,212 498.9,212.1 499.4,212.3 499.9,212.5 500.4,212.8 500.9,213.2 501.4,213.5 501.9,213.9 502.4,214.2 502.9,214.4 503.4,214.6 503.9,214.8 504.4,214.9 504.9,215 505.4,215.1 505.9,215.1 506.3,215.2 506.8,215.2 507.3,215.2 507.8,215.3 508.3,215.3 508.8,215.3 509.3,215.3 509.8,215.4 510.3,215.4 510.8,215.4 511.3,215.5 511.8,215.5 512.3,215.5 512.8,215.5 513.3,215.6 513.8,215.6 514.3,215.6 514.8,215.7 515.3,215.7 515.8,215.7 516.3,215.7 516.8,215.8 517.3,215.8 517.8,215.8 518.3,215.9 518.8,215.9 519.3,215.9 519.8,215.9 520.3,216 520.8,216 521.3,216 521.8,216 522.3,216.1 522.8,216.1 523.3,216.1 523.8,216.2 524.3,216.2 524.8,216.2 525.3,216.2 525.8,216.3 526.3,216.3 526.8,216.3 527.3,216.4 527.8,216.4 528.3,216.4 528.8,216.4 529.3,216.5 529.8,216.5 530.3,216.5 530.8,216.6 531.3,216.6 531.8,216.6 532.3,216.6 532.8,216.7 533.3,216.7 533.8,216.7 534.3,216.8 534.8,216.8 535.3,216.8 535.8,216.8 536.3,216.9 536.8,216.9 537.3,216.9 537.8,217 538.3,217 538.8,217 539.3,217 539.8,217.1 540.3,217.1 540.8,217.1 541.3,217.2 541.8,217.2 542.3,217.2 542.8,217.2 543.3,217.3 543.8,217.3 544.3,217.3 544.8,217.4 545.3,217.4" fill="none" stroke="#ff3434" stroke-width="1.0" stroke-linejoin="round"/>
<path d="M388,259.6 389,259.7 390,259.8 391,259.9 392,259.9 393,260 394,260.1 395,260.2 396,260.3 397,260.3 398,260.4 399,260.5 399.9,260.6 400.9,260.6 401.9,260.7 402.9,260.8 403.9,260.9 404.9,261 405.9,261 406.9,261.1 407.9,261.2 408.9,261.3 409.9,261.3 410.9,261.4 411.9,261.5 412.9,261.6 413.9,261.6 414.9,261.7 415.9,261.8 416.9,261.9 417.9,262 418.9,262 419.9,262.1 420.9,262.2 421.8,262.2 422.8,262.3 423.8,262.4 424.8,262.4 425.8,262.5 426.8,262.5 427.8,262.6 428.8,262.7 429.8,262.7 430.8,262.8 431.8,262.9 432.8,262.9 433.8,263 434.8,263 435.8,263.1 436.8,263.1 437.8,263.2 438.8,263.2 439.8,263.2 440.8,263.2 441.8,263.2 442.8,263.2 443.8,263.1 444.7,263 445.7,262.9 446.7,262.8 447.7,262.7 448.7,262.4 449.7,262.1 450.7,261.7 451.7,261.1 452.7,260.5 453.7,259.7 454.7,258.9 455.7,257.9 456.7,256.9 457.7,255.8 458.7,254.6 459.7,253.4 460.7,252.3 461.7,251.2 462.7,250.2 463.7,249.4 464.7,248.7 465.7,248.1 466.6,247.9 467.6,247.8 468.6,248 469.6,248.5 470.6,249.3 471.6,250.3 472.6,251.6 473.6,253.1 474.6,254.7 475.6,256.4 476.6,258.1 477.6,259.8 478.6,261.4 479.6,263 480.6,264.4 481.6,265.6 482.6,266.8 483.6,267.7 484.6,268.6 485.6,269.3 486.6,269.9 487.6,270.5 488.6,270.9 489.5,271.4 490.5,271.7 491.5,272 492.5,272.3 493.5,272.6 494.5,272.9 495.5,273.1 496.5,273.4 497.5,273.7 498.5,273.9 499.5,274.2 500.5,274.4 501.5,274.8 502.5,275.1 503.5,275.4 504.5,275.8 505.5,276.2 506.5,276.5 507.5,276.8 508.5,277.1 509.5,277.3 510.5,277.5 511.5,277.6 512.4,277.8 513.4,277.9 514.4,278 515.4,278.2 516.4,278.3 517.4,278.4 518.4,278.6 519.4,278.7 520.4,278.9 521.4,279 522.4,279.2 523.4,279.3 524.4,279.5 525.4,279.6 526.4,279.7 527.4,279.9 528.4,280 529.4,280.1 530.4,280.2 531.4,280.4 532.4,280.5 533.4,280.6 534.3,280.7 535.3,280.9 536.3,281 537.3,281.1 538.3,281.2 539.3,281.4 540.3,281.5 541.3,281.6 542.3,281.7 543.3,281.9 544.3,282 545.3,282.1 545.3,282.5 544.3,282.5 543.3,282.4 542.3,282.4 541.3,282.4 540.3,282.4 539.3,282.4 538.3,282.4 537.3,282.3 536.3,282.3 535.3,282.3 534.3,282.3 533.4,282.3 532.4,282.2 531.4,282.2 530.4,282.2 529.4,282.2 528.4,282.2 527.4,282.1 526.4,282.1 525.4,282.1 524.4,282.1 523.4,282 522.4,282 521.4,282 520.4,281.9 519.4,281.9 518.4,281.8 517.4,281.7 516.4,281.7 515.4,281.6 514.4,281.5 513.4,281.4 512.4,281.2 511.5,281.1 510.5,281 509.5,280.8 508.5,280.6 507.5,280.3 506.5,280 505.5,279.7 504.5,279.4 503.5,279 502.5,278.7 501.5,278.3 500.5,278 499.5,277.8 498.5,277.5 497.5,277.3 496.5,277 495.5,276.8 494.5,276.5 493.5,276.3 492.5,276.1 491.5,275.8 490.5,275.6 489.5,275.4 488.6,275.2 487.6,275 486.6,274.9 485.6,274.7 484.6,274.5 483.6,274.4 482.6,274.2 481.6,274 480.6,273.9 479.6,273.7 478.6,273.6 477.6,273.5 476.6,273.3 475.6,273.2 474.6,273 473.6,272.9 472.6,272.7 471.6,272.6 470.6,272.4 469.6,272.3 468.6,272.1 467.6,272 466.6,271.8 465.7,271.7 464.7,271.5 463.7,271.4 462.7,271.2 461.7,271.1 460.7,270.9 459.7,270.7 458.7,270.6 457.7,270.4 456.7,270.3 455.7,270.1 454.7,270 453.7,269.8 452.7,269.7 451.7,269.5 450.7,269.4 449.7,269.2 448.7,269.1 447.7,268.9 446.7,268.7 445.7,268.6 444.7,268.4 443.8,268.3 442.8,268.1 441.8,268 440.8,267.8 439.8,267.7 438.8,267.5 437.8,267.4 436.8,267.2 435.8,267.1 434.8,266.9 433.8,266.7 432.8,266.6 431.8,266.4 430.8,266.3 429.8,266.1 428.8,266 427.8,265.8 426.8,265.7 425.8,265.5 424.8,265.4 423.8,265.2 422.8,265.1 421.8,264.9 420.9,264.8 419.9,264.6 418.9,264.4 417.9,264.3 416.9,264.1 415.9,264 414.9,263.8 413.9,263.7 412.9,263.5 411.9,263.4 410.9,263.2 409.9,263.1 408.9,262.9 407.9,262.8 406.9,262.6 405.9,262.4 404.9,262.3 403.9,262.1 402.9,262 401.9,261.8 400.9,261.7 399.9,261.5 399,261.4 398,261.2 397,261.1 396,260.9 395,260.8 394,260.6 393,260.4 392,260.3 391,260.1 390,260 389,259.8 388,259.7Z" fill="#0be856"/>
<path d="M425,262.4 426,262.4 427,262.5 428,262.5 429,262.4 430,262.4 431,262.2 432,262 433,261.7 434,261.3 435,260.8 436,260.2 437,259.5 438,258.7 439,257.8 440,256.9 441,256.1 442,255.3 443,254.8 444,254.4 445,254.3 446,254.5 447,255.1 448,255.8 449,256.7 450,257.8 451,258.9 452,260 453,261.1 454,262.1 455,263 456,263.8 457,264.5 458,265.1 459,265.5 460,265.9 461,266.3 462,266.6 463,266.9 464,267.1 465,267.4 466,267.6 466,267.6 465,267.4 464,267.2 463,267 462,266.8 461,266.6 460,266.4 459,266.2 458,266 457,265.9 456,265.7 455,265.5 454,265.3 453,265.1 452,264.9 451,264.8 450,264.6 449,264.4 448,264.2 447,264 446,263.9 445,263.7 444,263.6 443,263.6 442,263.5 441,263.4 440,263.4 439,263.3 438,263.2 437,263.2 436,263.1 435,263.1 434,263 433,262.9 432,262.9 431,262.8 430,262.7 429,262.7 428,262.6 427,262.6 426,262.5 425,262.4Z" fill="#f6dca6"/>
<path d="M470,268.4 471,268.6 472,268.8 473,268.8 474,268.2 475,266 476,261.5 477,254.8 478,247.9 479,242.8 480,240.3 481,239.8 482,239.9 483,240.8 484,243.4 485,248.2 486,254.6 487,261.3 488,266.6 489,269.9 490,271.4 491,272.1 492,272.4 493,272.6 494,272.9 494,272.9 493,272.6 492,272.4 491,272.2 490,272 489,271.8 488,271.6 487,271.5 486,271.3 485,271.1 484,271 483,270.8 482,270.7 481,270.5 480,270.4 479,270.2 478,270 477,269.8 476,269.6 475,269.4 474,269.2 473,269 472,268.8 471,268.6 470,268.4Z" fill="#12e4ee"/>
<path d="M480,270.1 481,270 482,269.9 483,269.6 484,269.2 485,268.5 486,267.7 487,266.5 488,265.1 489,263.4 490,261.5 491,259.5 492,257.4 493,255.4 494,253.5 495,252.1 496,251.1 497,250.7 498,251 499,251.8 500,253 501,254.8 502,256.9 503,259.3 504,261.7 505,264.2 506,266.6 507,268.8 508,270.8 509,272.4 510,273.8 511,274.9 512,275.8 513,276.5 514,277.1 515,277.5 516,277.8 517,278.1 518,278.3 519,278.6 520,278.8 520,278.8 519,278.7 518,278.5 517,278.3 516,278.2 515,278.1 514,278 513,277.9 512,277.7 511,277.6 510,277.4 509,277.2 508,277 507,276.7 506,276.4 505,276 504,275.6 503,275.3 502,274.9 501,274.6 500,274.3 499,274 498,273.8 497,273.6 496,273.3 495,273.1 494,272.9 493,272.6 492,272.4 491,272.2 490,272 489,271.8 488,271.6 487,271.5 486,271.3 485,271.1 484,271 483,270.8 482,270.7 481,270.5 480,270.4Z" fill="#b0b0b0"/>
<path d="M494,272 495,271.7 496,271 497,270.1 498,268.6 499,266.8 500,264.4 501,261.6 502,258.6 503,255.6 504,252.8 505,250.6 506,249.1 507,248.7 508,249.5 509,251.6 510,254.8 511,258.6 512,262.7 513,266.6 514,270 515,272.7 516,274.8 517,276.2 518,277.3 519,278 520,278.5 521,278.8 522,279 522,279.1 521,279 520,278.8 519,278.7 518,278.5 517,278.3 516,278.2 515,278.1 514,278 513,277.9 512,277.7 511,277.6 510,277.4 509,277.2 508,277 507,276.7 506,276.4 505,276 504,275.6 503,275.3 502,274.9 501,274.6 500,274.3 499,274 498,273.8 497,273.6 496,273.3 495,273.1 494,272.9Z" fill="#f06ec8"/>
<path d="M494,272 495,271.7 496,271 497,270.1 498,268.6 499,266.8 500,264.4 501,261.6 502,258.6 503,259.3 504,261.7 505,264.2 506,266.6 507,268.8 508,270.8 509,272.4 510,273.8 511,274.9 512,275.8 513,276.5 514,277.1 515,277.5 516,277.8 517,278.1 518,278.3 519,278.6 520,278.8 520,278.8 519,278.7 518,278.5 517,278.3 516,278.2 515,278.1 514,278 513,277.9 512,277.7 511,277.6 510,277.4 509,277.2 508,277 507,276.7 506,276.4 505,276 504,275.6 503,275.3 502,274.9 501,274.6 500,274.3 499,274 498,273.8 497,273.6 496,273.3 495,273.1 494,272.9Z" fill="#c24e90"/>
<path d="M388,259.6 389,259.7 390,259.8 391,259.9 392,259.9 393,260 394,260.1 395,260.2 396,260.3 397,260.3 398,260.4 399,260.5 399.9,260.6 400.9,260.6 401.9,260.7 402.9,260.8 403.9,260.9 404.9,261 405.9,261 406.9,261.1 407.9,261.2 408.9,261.3 409.9,261.3 410.9,261.4 411.9,261.5 412.9,261.6 413.9,261.6 414.9,261.7 415.9,261.8 416.9,261.9 417.9,262 418.9,262 419.9,262.1 420.9,262.2 421.8,262.2 422.8,262.3 423.8,262.4 424.8,262.4 425.8,262.5 426.8,262.5 427.8,262.6 428.8,262.7 429.8,262.7 430.8,262.8 431.8,262.9 432.8,262.9 433.8,263 434.8,263 435.8,263.1 436.8,263.2 437.8,263.2 438.8,263.3 439.8,263.4 440.8,263.4 441.8,263.5 442.8,263.5 443.8,263.6 444.7,263.7 445.7,263.8 446.7,264 447.7,264.2 448.7,264.4 449.7,264.5 450.7,264.7 451.7,264.9 452.7,265.1 453.7,265.3 454.7,265.4 455.7,265.6 456.7,265.8 457.7,266 458.7,266.2 459.7,266.3 460.7,266.5 461.7,266.7 462.7,266.9 463.7,267.1 464.7,267.3 465.7,267.6 466.6,267.8 467.6,268 468.6,268.2 469.6,268.4 470.6,268.6 471.6,268.8 472.6,269 473.6,269.2 474.6,269.4 475.6,269.5 476.6,269.7 477.6,269.9 478.6,270.1 479.6,270.3 480.6,270.5 481.6,270.6 482.6,270.8 483.6,270.9 484.6,271.1 485.6,271.2 486.6,271.4 487.6,271.6 488.6,271.7 489.5,271.9 490.5,272.1 491.5,272.3 492.5,272.5 493.5,272.8 494.5,273 495.5,273.2 496.5,273.4 497.5,273.7 498.5,273.9 499.5,274.2 500.5,274.4 501.5,274.8 502.5,275.1 503.5,275.5 504.5,275.8 505.5,276.2 506.5,276.5 507.5,276.8 508.5,277.1 509.5,277.3 510.5,277.5 511.5,277.6 512.4,277.8 513.4,277.9 514.4,278 515.4,278.2 516.4,278.3 517.4,278.4 518.4,278.6 519.4,278.7 520.4,278.9 521.4,279 522.4,279.2 523.4,279.3 524.4,279.5 525.4,279.6 526.4,279.7 527.4,279.9 528.4,280 529.4,280.1 530.4,280.2 531.4,280.4 532.4,280.5 533.4,280.6 534.3,280.7 535.3,280.9 536.3,281 537.3,281.1 538.3,281.2 539.3,281.4 540.3,281.5 541.3,281.6 542.3,281.7 543.3,281.9 544.3,282 545.3,282.1" fill="none" stroke="#d0782c" stroke-width="0.6" stroke-linejoin="round"/>
<path d="M490,275.5 491,275.7 492,275.9 493,276.2 493.9,276.4 494.9,276.6 495.9,276.9 496.9,277.1 497.9,277.4 498.9,277.6 499.9,277.9 500.9,278.1 501.8,278.5 502.8,278.8 503.8,279.1 504.8,279.5 505.8,279.8 506.8,280.1 507.8,280.4 508.8,280.7 509.8,280.9 510.7,281 511.7,281.1 512.7,281.3 513.7,281.4 514.7,281.5 515.7,281.6 516.7,281.7 517.6,281.8 518.6,281.8 519.6,281.9 520.6,281.9 521.6,282 522.6,282 523.6,282 524.6,282.1 525.5,282.1 526.5,282.1 527.5,282.1 528.5,282.2 529.5,282.2 530.5,282.2 531.5,282.2 532.5,282.3 533.4,282.3 534.4,282.3 535.4,282.3 536.4,282.3 537.4,282.3 538.4,282.4 539.4,282.4 540.4,282.4 541.3,282.4 542.3,282.4 543.3,282.4 544.3,282.5 545.3,282.5" fill="none" stroke="#d04040" stroke-width="0.7" stroke-linejoin="round"/>
<path d="M388,259.2 389.5,258 391,258 392.5,260 394,258.8 395.5,258.9 397,260.1 398.5,259.7 400,260.9 401.5,259.9 403,261.4 404.5,260.4 406,261 407.5,261.8 409,261.5 410.5,262 412,261.7 413.5,260.7 415,262.3 416.5,261.8 418,261.4 419.5,261.2 421,262.4 422.5,261.8 424,262.3 425.5,261.8 427,261.8 428.4,260.8 429.9,260.6 431.4,260.5 432.9,259.5 434.4,259.3 435.9,257.8 437.4,257.1 438.9,256.1 440.4,254.9 441.9,253.7 443.4,253.6 444.9,253.2 446.4,252.9 447.9,253.1 449.4,253.7 450.9,253.6 452.4,254.8 453.9,254.9 455.4,255 456.9,254.2 458.4,253.2 459.9,252.3 461.4,250.7 462.9,249.6 464.4,248.9 465.9,248.2 467.4,248.1 468.9,247.9 470.4,247.8 471.9,248.5 473.4,249 474.9,248.3 476.4,246.8 477.9,241.2 479.4,235.7 480.9,232.1 482.4,233.6 483.9,237.4 485.4,242.2 486.9,247.3 488.4,252.1 489.9,256 491.4,256 492.9,256.1 494.4,254.6 495.9,253.1 497.4,251.1 498.9,249 500.4,246.5 501.9,243.4 503.4,239.9 504.9,236.1 506.3,233.9 507.8,234.8 509.3,238.1 510.8,246.4 512.3,254.9 513.8,263.1 515.3,269.9 516.8,275.4 518.3,277.1 519.8,277.8 521.3,277.6 522.8,278.7 524.3,278.5 525.8,278.3 527.3,278.9 528.8,279 530.3,278.7 531.8,279.7 533.3,280 534.8,279.8 536.3,280.6 537.8,279.1 539.3,280.2 540.8,280.6 542.3,280.2 543.8,280.1 545.3,281.1" fill="none" stroke="#1a1a1a" stroke-width="0.7" stroke-linejoin="round"/>
<path d="M388,259.5 388.5,259.6 389,259.7 389.5,259.8 390,259.9 390.5,260 391,260.1 391.5,260.2 392,260.2 392.5,260.3 393,260.4 393.5,260.5 394,260.6 394.5,260.6 395,260.7 395.5,260.8 396,260.9 396.5,260.9 397,261 397.5,261.1 398,261.1 398.5,261.2 399,261.3 399.5,261.3 400,261.4 400.5,261.5 401,261.5 401.5,261.6 402,261.6 402.5,261.7 403,261.7 403.5,261.8 404,261.9 404.5,261.9 405,262 405.5,262 406,262.1 406.5,262.1 407,262.1 407.5,262.2 408,262.2 408.5,262.3 409,262.3 409.5,262.4 410,262.4 410.5,262.4 411,262.5 411.5,262.5 412,262.6 412.5,262.6 413,262.6 413.5,262.7 414,262.7 414.5,262.8 415,262.8 415.5,262.8 416,262.9 416.5,262.9 417,262.9 417.5,262.9 418,263 418.5,263 419,263 419.5,263 420,263 420.5,263 421,263 421.5,263 422,262.9 422.5,262.9 423,262.8 423.5,262.8 424,262.7 424.5,262.6 425,262.5 425.5,262.5 426,262.4 426.5,262.3 427,262.2 427.4,262.1 427.9,262 428.4,261.9 428.9,261.8 429.4,261.6 429.9,261.5 430.4,261.3 430.9,261.1 431.4,260.9 431.9,260.7 432.4,260.5 432.9,260.2 433.4,260 433.9,259.7 434.4,259.4 434.9,259.1 435.4,258.8 435.9,258.4 436.4,258.1 436.9,257.7 437.4,257.4 437.9,257 438.4,256.6 438.9,256.2 439.4,255.8 439.9,255.5 440.4,255.3 440.9,255 441.4,254.7 441.9,254.5 442.4,254.3 442.9,254 443.4,253.9 443.9,253.7 444.4,253.6 444.9,253.6 445.4,253.6 445.9,253.6 446.4,253.7 446.9,253.8 447.4,253.8 447.9,253.9 448.4,254 448.9,254.1 449.4,254.2 449.9,254.3 450.4,254.4 450.9,254.5 451.4,254.7 451.9,254.8 452.4,255 452.9,255.1 453.4,255.3 453.9,255.4 454.4,255.5 454.9,255.5 455.4,255.5 455.9,255.3 456.4,255.1 456.9,254.8 457.4,254.4 457.9,254 458.4,253.6 458.9,253.2 459.4,252.8 459.9,252.5 460.4,252.1 460.9,251.8 461.4,251.4 461.9,251 462.4,250.6 462.9,250.2 463.4,249.9 463.9,249.6 464.4,249.3 464.9,249.1 465.4,249 465.9,248.9 466.4,248.8 466.9,248.7 467.4,248.6 467.9,248.5 468.4,248.4 468.9,248.4 469.4,248.3 469.9,248.3 470.4,248.3 470.9,248.5 471.4,248.7 471.9,248.9 472.4,249.1 472.9,249.4 473.4,249.5 473.9,249.6 474.4,249.5 474.9,249.1 475.4,248.6 475.9,247.9 476.4,246.9 476.9,245.4 477.4,243.6 477.9,241.8 478.4,240 478.9,238.1 479.4,236.3 479.9,234.8 480.4,233.6 480.9,232.6 481.4,232.3 481.9,232.8 482.4,233.7 482.9,234.8 483.4,236 483.9,237.6 484.4,239.3 484.9,241 485.4,242.7 485.9,244.4 486.4,246.2 486.9,247.9 487.4,249.6 487.9,251.3 488.4,252.9 488.9,254.3 489.4,255.4 489.9,256.2 490.4,256.5 490.9,256.6 491.4,256.7 491.9,256.8 492.4,256.7 492.9,256.5 493.4,256.2 493.9,255.7 494.4,255.2 494.9,254.7 495.4,254.2 495.9,253.7 496.4,253.1 496.9,252.4 497.4,251.8 497.9,251.1 498.4,250.4 498.9,249.8 499.4,249 499.9,248.2 500.4,247.3 500.9,246.3 501.4,245.1 501.9,243.8 502.4,242.6 502.9,241.3 503.4,240.1 503.9,238.8 504.4,237.5 504.9,236.5 505.4,235.8 505.9,235.2 506.3,234.7 506.8,234.4 507.3,234.5 507.8,235.2 508.3,236.2 508.8,237.3 509.3,239 509.8,241.4 510.3,244.1 510.8,247 511.3,249.7 511.8,252.4 512.3,255.1 512.8,257.9 513.3,260.5 513.8,263.3 514.3,266 514.8,268.4 515.3,270.4 515.8,272.3 516.3,274.1 516.8,275.6 517.3,276.7 517.8,277.2 518.3,277.6 518.8,277.9 519.3,278.1 519.8,278.2 520.3,278.4 520.8,278.5 521.3,278.7 521.8,278.8 522.3,278.9 522.8,279 523.3,279.1 523.8,279.2 524.3,279.3 524.8,279.4 525.3,279.4 525.8,279.5 526.3,279.6 526.8,279.7 527.3,279.7 527.8,279.8 528.3,279.9 528.8,279.9 529.3,280 529.8,280.1 530.3,280.1 530.8,280.2 531.3,280.3 531.8,280.4 532.3,280.4 532.8,280.5 533.3,280.6 533.8,280.7 534.3,280.7 534.8,280.8 535.3,280.9 535.8,280.9 536.3,281 536.8,281.1 537.3,281.1 537.8,281.2 538.3,281.2 538.8,281.3 539.3,281.4 539.8,281.4 540.3,281.5 540.8,281.5 541.3,281.6 541.8,281.7 542.3,281.7 542.8,281.8 543.3,281.8 543.8,281.9 544.3,281.9 544.8,282 545.3,282" fill="none" stroke="#ff3434" stroke-width="1.0" stroke-linejoin="round"/>
<rect x="387.5" y="159.8" width="158.3" height="129.8" fill="none" stroke="#333" stroke-width="1.1"/>
<path d="M387,289.6 H546.3" stroke="#111" stroke-width="1.2"/>
<path d="M403.5,289.6v2.3M436,289.6v2.3M468.5,289.6v2.3M501,289.6v2.3M533.5,289.6v2.3M419.8,289.6v1.5M452.2,289.6v1.5M484.8,289.6v1.5M517.2,289.6v1.5" stroke="#111" stroke-width="0.8"/>
<text x="400.1" y="298.7" font-size="6.0" textLength="6.9" lengthAdjust="spacingAndGlyphs" fill="#111" stroke="#111" stroke-width="0.08">470</text>
<text x="432.6" y="298.7" font-size="6.0" textLength="6.9" lengthAdjust="spacingAndGlyphs" fill="#111" stroke="#111" stroke-width="0.08">465</text>
<text x="465.1" y="298.7" font-size="6.0" textLength="6.9" lengthAdjust="spacingAndGlyphs" fill="#111" stroke="#111" stroke-width="0.08">460</text>
<text x="497.6" y="298.7" font-size="6.0" textLength="6.9" lengthAdjust="spacingAndGlyphs" fill="#111" stroke="#111" stroke-width="0.08">455</text>
<text x="530" y="298.7" font-size="6.0" textLength="6.9" lengthAdjust="spacingAndGlyphs" fill="#111" stroke="#111" stroke-width="0.08">450</text>
<text x="466.6" y="308.9" font-size="5.6" font-weight="bold" text-anchor="middle" fill="#111" stroke="#111" stroke-width="0.08">Binding energy (eV)</text>
<text x="-20.1" y="0" font-size="6.4" font-weight="bold" textLength="40.3" lengthAdjust="spacingAndGlyphs" fill="#111" stroke="#111" stroke-width="0.18" transform="translate(381.1,225.3) rotate(-90)">Intensity (a.u.)</text>
<text x="368.4" y="174.3" font-size="15.6" font-weight="bold" fill="#000" stroke="#000" stroke-width="0.18">(f)</text>
<text x="525" y="174.7" font-size="8.2" font-weight="bold" textLength="16.4" lengthAdjust="spacingAndGlyphs" fill="#111" stroke="#111" stroke-width="0.18">Ti 2p</text>
<text x="394.4" y="198.7" font-size="7.0" textLength="40.7" lengthAdjust="spacingAndGlyphs" fill="#2a2a2a" stroke="#2a2a2a" stroke-width="0.1">NM88B@MXene</text>
<text x="396.3" y="254" font-size="7.0" textLength="16.9" lengthAdjust="spacingAndGlyphs" fill="#2a2a2a" stroke="#2a2a2a" stroke-width="0.1">MXene</text>
<text x="426" y="187.5" font-size="6.4" font-weight="bold" textLength="22" lengthAdjust="spacingAndGlyphs" fill="#111" stroke="#111" stroke-width="0.22">463.38 eV</text>
<path d="M437.9,188.8 L439.9,194.3" stroke="#1f6fc6" stroke-width="1.0"/>
<path d="M440.8,196.7 L438.3,194.4 L441.3,193.3Z" fill="#1f6fc6"/>
<text x="454.6" y="192.1" font-size="6.4" font-weight="bold" textLength="22" lengthAdjust="spacingAndGlyphs" fill="#111" stroke="#111" stroke-width="0.22">460.43 eV</text>
<path d="M465.4,193.6 L465.4,207.6" stroke="#1f6fc6" stroke-width="1.0"/>
<path d="M465.4,210.2 L463.8,207.2 L467,207.2Z" fill="#1f6fc6"/>
<text x="490.6" y="174.4" font-size="6.4" font-weight="bold" textLength="22" lengthAdjust="spacingAndGlyphs" fill="#111" stroke="#111" stroke-width="0.22">457.57 eV</text>
<path d="M497,176.6 L490.1,186.5" stroke="#1f6fc6" stroke-width="1.0"/>
<path d="M488.6,188.6 L489,185.2 L491.6,187.1Z" fill="#1f6fc6"/>
<text x="496.8" y="206.9" font-size="6.4" font-weight="bold" textLength="22" lengthAdjust="spacingAndGlyphs" fill="#111" stroke="#111" stroke-width="0.22">455.26 eV</text>
<path d="M504.5,209.2 L502.3,212.1" stroke="#1f6fc6" stroke-width="1.0"/>
<path d="M500.7,214.2 L501.2,210.8 L503.8,212.8Z" fill="#1f6fc6"/>
<text x="420.2" y="242.4" font-size="6.4" font-weight="bold" textLength="22" lengthAdjust="spacingAndGlyphs" fill="#111" stroke="#111" stroke-width="0.22">463.38 eV</text>
<path d="M432.9,243.6 L440.6,250.6" stroke="#1f6fc6" stroke-width="1.0"/>
<path d="M442.5,252.3 L439.2,251.5 L441.4,249.1Z" fill="#1f6fc6"/>
<text x="447.2" y="241.7" font-size="6.4" font-weight="bold" textLength="22" lengthAdjust="spacingAndGlyphs" fill="#111" stroke="#111" stroke-width="0.22">460.18 eV</text>
<path d="M461.9,244.4 L463.4,247.9" stroke="#1f6fc6" stroke-width="1.0"/>
<path d="M464.4,250.3 L461.8,248.2 L464.7,246.9Z" fill="#1f6fc6"/>
<text x="460.3" y="230.3" font-size="6.4" font-weight="bold" textLength="22" lengthAdjust="spacingAndGlyphs" fill="#111" stroke="#111" stroke-width="0.22">457.98 eV</text>
<path d="M476.5,233.6 L478.7,238" stroke="#1f6fc6" stroke-width="1.0"/>
<path d="M479.8,240.3 L477,238.3 L479.9,236.9Z" fill="#1f6fc6"/>
<text x="487.5" y="234.4" font-size="6.4" font-weight="bold" textLength="22" lengthAdjust="spacingAndGlyphs" fill="#111" stroke="#111" stroke-width="0.22">455.46 eV</text>
<path d="M495.9,236.2 L497.1,246.5" stroke="#1f6fc6" stroke-width="1.0"/>
<path d="M497.4,249.1 L495.5,246.3 L498.6,245.9Z" fill="#1f6fc6"/>
<text x="519.8" y="248.8" font-size="6.4" font-weight="bold" textLength="22" lengthAdjust="spacingAndGlyphs" fill="#111" stroke="#111" stroke-width="0.22">454.02 eV</text>
<path d="M522.7,250.6 L514.5,258.7" stroke="#1f6fc6" stroke-width="1.0"/>
<path d="M512.6,260.5 L513.6,257.3 L515.9,259.5Z" fill="#1f6fc6"/>
</svg></body></html>
